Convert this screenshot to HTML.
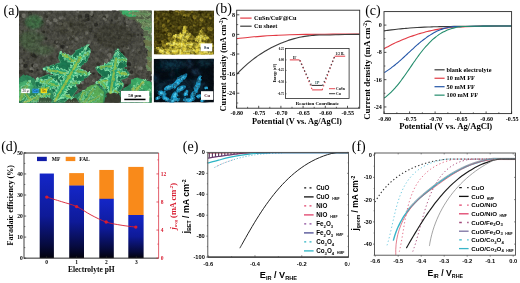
<!DOCTYPE html>
<html><head><meta charset="utf-8"><title>figure</title>
<style>
html,body{margin:0;padding:0;background:#fff;overflow:hidden;}
svg{display:block;filter:blur(0.45px);}
.se{font-family:"Liberation Serif",serif;font-weight:bold;}
.sen{font-family:"Liberation Serif",serif;font-weight:normal;}
.sa{font-family:"Liberation Sans",sans-serif;font-weight:bold;}
.san{font-family:"Liberation Sans",sans-serif;font-weight:normal;}
</style></head><body>
<svg width="520" height="283" viewBox="0 0 520 283">
<defs>
<filter id="nz" x="0" y="0" width="100%" height="100%">
<feTurbulence type="fractalNoise" baseFrequency="0.3" numOctaves="3" seed="3" result="t"/>
<feColorMatrix in="t" type="matrix" values="0 0 0 0 0  0 0 0 0 0  0 0 0 0 0  2.2 0 0 0 -0.8" result="a"/>
<feComposite in="SourceGraphic" in2="a" operator="in"/>
</filter>
<filter id="nz2" x="0" y="0" width="100%" height="100%">
<feTurbulence type="fractalNoise" baseFrequency="0.5" numOctaves="2" seed="11" result="t"/>
<feColorMatrix in="t" type="matrix" values="0 0 0 0 0  0 0 0 0 0  0 0 0 0 0  0 2.2 0 0 -0.8" result="a"/>
<feComposite in="SourceGraphic" in2="a" operator="in"/>
</filter>
<filter id="rg" x="-5%" y="-5%" width="110%" height="110%">
<feTurbulence type="fractalNoise" baseFrequency="0.22" numOctaves="2" seed="5" result="t"/>
<feDisplacementMap in="SourceGraphic" in2="t" scale="2.5" xChannelSelector="R" yChannelSelector="G" result="d"/>
<feGaussianBlur in="d" stdDeviation="0.45"/>
</filter>
<filter id="rg2" x="-5%" y="-5%" width="110%" height="110%">
<feTurbulence type="fractalNoise" baseFrequency="0.3" numOctaves="2" seed="9" result="t"/>
<feDisplacementMap in="SourceGraphic" in2="t" scale="3" xChannelSelector="R" yChannelSelector="G" result="d"/>
<feGaussianBlur in="d" stdDeviation="0.4"/>
</filter>
<filter id="b05"><feGaussianBlur stdDeviation="0.45"/></filter>
<filter id="b1"><feGaussianBlur stdDeviation="0.7"/></filter>
<filter id="b2"><feGaussianBlur stdDeviation="1.6"/></filter>
<linearGradient id="gG" x1="0" y1="0" x2="1" y2="1">
<stop offset="0" stop-color="#7fcf68"/><stop offset="0.45" stop-color="#3db874"/><stop offset="1" stop-color="#1f9a70"/>
</linearGradient>
<linearGradient id="gBar" x1="0" y1="0" x2="0" y2="1">
<stop offset="0" stop-color="#1426c8"/><stop offset="0.5" stop-color="#0e1a98"/><stop offset="0.85" stop-color="#060a3c"/><stop offset="1" stop-color="#02020c"/>
</linearGradient>
<clipPath id="cA"><rect x="19" y="10.4" width="132.7" height="92.35"/></clipPath>
<clipPath id="cS"><rect x="153.8" y="10.4" width="60.3" height="44"/></clipPath>
<clipPath id="cC"><rect x="153.7" y="58.75" width="60.2" height="43.75"/></clipPath>
<clipPath id="cB"><rect x="236.7" y="10.2" width="123" height="98"/></clipPath>
<clipPath id="cCc"><rect x="384" y="11.6" width="127.6" height="102"/></clipPath>
<clipPath id="cE"><rect x="207.8" y="152.4" width="140.7" height="104.7"/></clipPath>
<clipPath id="cF"><rect x="374.5" y="153" width="141" height="102.2"/></clipPath>
<clipPath id="cE0"><rect x="180" y="250" width="170" height="33"/></clipPath>
</defs>
<rect width="520" height="283" fill="#fff"/>

<text class="sen" x="3.6" y="15.2" font-size="14">(a)</text>
<text class="sen" x="215.6" y="12.8" font-size="14">(b)</text>
<text class="sen" x="365.2" y="15.4" font-size="14">(c)</text>
<text class="sen" x="1.2" y="151.4" font-size="14">(d)</text>
<text class="sen" x="182.8" y="151.2" font-size="14">(e)</text>
<g clip-path="url(#cA)">
<rect x="19.00" y="10.40" width="132.70" height="92.35" fill="#4c4c45"/>
<g filter="url(#b1)">
<circle cx="62.1" cy="24.0" r="1.9" fill="#34342e"/>
<circle cx="128.2" cy="18.8" r="1.8" fill="#2c2c26"/>
<circle cx="24.0" cy="50.3" r="1.1" fill="#34342e"/>
<circle cx="92.3" cy="15.5" r="1.8" fill="#2c2c26"/>
<circle cx="102.9" cy="64.2" r="1.1" fill="#58584f"/>
<circle cx="25.6" cy="30.6" r="1.8" fill="#5c5c54"/>
<circle cx="57.5" cy="23.4" r="1.2" fill="#707068"/>
<circle cx="93.5" cy="73.4" r="1.1" fill="#2c2c26"/>
<circle cx="68.5" cy="60.9" r="1.1" fill="#66665e"/>
<circle cx="101.3" cy="56.2" r="1.7" fill="#42423b"/>
<circle cx="80.9" cy="95.9" r="1.5" fill="#2c2c26"/>
<circle cx="124.7" cy="75.0" r="1.3" fill="#707068"/>
<circle cx="88.9" cy="91.4" r="2.0" fill="#707068"/>
<circle cx="100.0" cy="16.8" r="1.7" fill="#5c5c54"/>
<circle cx="119.7" cy="24.1" r="1.7" fill="#66665e"/>
<circle cx="146.9" cy="17.2" r="1.8" fill="#42423b"/>
<circle cx="64.2" cy="42.6" r="1.7" fill="#3a3a33"/>
<circle cx="28.1" cy="18.7" r="1.4" fill="#34342e"/>
<circle cx="27.1" cy="75.2" r="1.9" fill="#3a3a33"/>
<circle cx="56.9" cy="45.9" r="1.9" fill="#66665e"/>
<circle cx="144.1" cy="43.1" r="1.9" fill="#3a3a33"/>
<circle cx="26.8" cy="81.4" r="1.2" fill="#2c2c26"/>
<circle cx="71.9" cy="95.3" r="1.7" fill="#5c5c54"/>
<circle cx="78.7" cy="61.1" r="2.2" fill="#58584f"/>
<circle cx="133.9" cy="35.9" r="1.6" fill="#42423b"/>
<circle cx="109.8" cy="45.4" r="1.3" fill="#34342e"/>
<circle cx="42.4" cy="31.6" r="1.3" fill="#3a3a33"/>
<circle cx="129.5" cy="27.0" r="1.4" fill="#5c5c54"/>
<circle cx="74.7" cy="44.3" r="1.8" fill="#5c5c54"/>
<circle cx="110.8" cy="57.9" r="1.9" fill="#66665e"/>
<circle cx="79.7" cy="91.0" r="2.3" fill="#58584f"/>
<circle cx="71.9" cy="46.7" r="1.7" fill="#58584f"/>
<circle cx="27.3" cy="16.3" r="1.3" fill="#5c5c54"/>
<circle cx="33.6" cy="65.9" r="1.1" fill="#5c5c54"/>
<circle cx="90.4" cy="98.3" r="1.9" fill="#34342e"/>
<circle cx="135.3" cy="67.1" r="1.2" fill="#707068"/>
<circle cx="146.1" cy="66.0" r="1.7" fill="#34342e"/>
<circle cx="131.9" cy="102.4" r="1.7" fill="#3a3a33"/>
<circle cx="60.5" cy="23.4" r="2.0" fill="#707068"/>
<circle cx="82.7" cy="74.4" r="1.7" fill="#2c2c26"/>
<circle cx="145.5" cy="59.1" r="1.2" fill="#66665e"/>
<circle cx="119.8" cy="37.7" r="1.9" fill="#34342e"/>
<circle cx="111.6" cy="34.3" r="1.5" fill="#5c5c54"/>
<circle cx="66.3" cy="30.7" r="1.8" fill="#42423b"/>
<circle cx="103.6" cy="67.0" r="2.1" fill="#2c2c26"/>
<circle cx="126.2" cy="86.1" r="2.0" fill="#2c2c26"/>
<circle cx="45.6" cy="55.8" r="2.0" fill="#66665e"/>
<circle cx="124.1" cy="53.9" r="1.3" fill="#42423b"/>
<circle cx="78.5" cy="97.1" r="2.4" fill="#42423b"/>
<circle cx="29.7" cy="19.5" r="1.7" fill="#42423b"/>
<circle cx="46.2" cy="68.0" r="2.3" fill="#66665e"/>
<circle cx="82.8" cy="70.7" r="2.1" fill="#34342e"/>
<circle cx="130.0" cy="21.2" r="1.5" fill="#2c2c26"/>
<circle cx="82.6" cy="26.6" r="2.1" fill="#42423b"/>
<circle cx="30.5" cy="98.0" r="2.0" fill="#3a3a33"/>
<circle cx="72.4" cy="98.1" r="2.0" fill="#5c5c54"/>
<circle cx="151.1" cy="12.6" r="1.8" fill="#3a3a33"/>
<circle cx="126.3" cy="23.6" r="2.2" fill="#3a3a33"/>
<circle cx="106.4" cy="42.6" r="1.8" fill="#5c5c54"/>
<circle cx="21.8" cy="84.3" r="2.0" fill="#34342e"/>
<circle cx="89.0" cy="96.8" r="1.6" fill="#2c2c26"/>
<circle cx="128.9" cy="29.6" r="1.4" fill="#707068"/>
<circle cx="85.7" cy="81.0" r="1.5" fill="#58584f"/>
<circle cx="129.9" cy="15.7" r="2.0" fill="#3a3a33"/>
<circle cx="107.1" cy="85.8" r="1.7" fill="#5c5c54"/>
<circle cx="89.7" cy="58.7" r="1.0" fill="#3a3a33"/>
<circle cx="122.3" cy="66.6" r="2.1" fill="#5c5c54"/>
<circle cx="41.9" cy="54.0" r="2.0" fill="#66665e"/>
<circle cx="62.4" cy="58.2" r="1.8" fill="#34342e"/>
<circle cx="136.5" cy="15.3" r="1.3" fill="#66665e"/>
<circle cx="121.7" cy="57.2" r="1.8" fill="#34342e"/>
<circle cx="78.0" cy="67.0" r="1.7" fill="#2c2c26"/>
<circle cx="111.1" cy="52.1" r="1.7" fill="#3a3a33"/>
<circle cx="86.5" cy="33.0" r="1.7" fill="#707068"/>
<circle cx="141.7" cy="93.0" r="1.3" fill="#3a3a33"/>
<circle cx="37.2" cy="21.3" r="1.6" fill="#34342e"/>
<circle cx="108.3" cy="49.8" r="1.3" fill="#707068"/>
<circle cx="123.3" cy="93.4" r="1.2" fill="#42423b"/>
<circle cx="38.0" cy="92.1" r="2.4" fill="#2c2c26"/>
<circle cx="118.3" cy="18.8" r="2.2" fill="#5c5c54"/>
<circle cx="150.7" cy="87.4" r="1.2" fill="#58584f"/>
<circle cx="151.2" cy="47.6" r="1.6" fill="#42423b"/>
<circle cx="61.4" cy="77.2" r="1.0" fill="#3a3a33"/>
<circle cx="77.6" cy="11.7" r="1.5" fill="#707068"/>
<circle cx="87.1" cy="16.0" r="2.4" fill="#2c2c26"/>
<circle cx="148.2" cy="19.7" r="1.4" fill="#66665e"/>
<circle cx="139.5" cy="26.9" r="2.1" fill="#58584f"/>
<circle cx="132.0" cy="72.9" r="2.3" fill="#58584f"/>
<circle cx="38.9" cy="95.5" r="1.8" fill="#42423b"/>
<circle cx="30.9" cy="15.3" r="2.0" fill="#58584f"/>
<circle cx="138.1" cy="35.0" r="1.0" fill="#34342e"/>
<circle cx="125.6" cy="17.8" r="2.2" fill="#34342e"/>
<circle cx="54.2" cy="21.3" r="1.0" fill="#58584f"/>
<circle cx="142.2" cy="34.9" r="1.2" fill="#2c2c26"/>
<circle cx="143.8" cy="100.1" r="1.4" fill="#5c5c54"/>
<circle cx="45.8" cy="39.0" r="1.4" fill="#2c2c26"/>
<circle cx="57.6" cy="56.5" r="1.2" fill="#42423b"/>
<circle cx="125.9" cy="102.5" r="1.1" fill="#66665e"/>
<circle cx="116.5" cy="61.2" r="1.3" fill="#3a3a33"/>
<circle cx="51.7" cy="51.6" r="1.9" fill="#58584f"/>
<circle cx="106.3" cy="60.8" r="2.2" fill="#707068"/>
<circle cx="110.5" cy="101.4" r="1.5" fill="#5c5c54"/>
<circle cx="72.8" cy="42.3" r="1.1" fill="#5c5c54"/>
<circle cx="20.9" cy="68.2" r="2.2" fill="#58584f"/>
<circle cx="40.7" cy="17.9" r="2.2" fill="#707068"/>
<circle cx="98.6" cy="74.4" r="1.1" fill="#5c5c54"/>
<circle cx="40.0" cy="51.5" r="1.4" fill="#42423b"/>
<circle cx="148.4" cy="60.9" r="1.3" fill="#707068"/>
<circle cx="48.0" cy="27.0" r="1.5" fill="#34342e"/>
<circle cx="82.1" cy="56.8" r="1.3" fill="#66665e"/>
<circle cx="31.1" cy="86.0" r="1.2" fill="#66665e"/>
<circle cx="71.4" cy="37.9" r="1.9" fill="#34342e"/>
<circle cx="96.9" cy="59.2" r="2.1" fill="#58584f"/>
<circle cx="120.7" cy="77.0" r="1.7" fill="#707068"/>
<circle cx="115.3" cy="69.8" r="1.1" fill="#58584f"/>
<circle cx="116.6" cy="85.5" r="1.2" fill="#66665e"/>
<circle cx="128.9" cy="64.3" r="2.2" fill="#2c2c26"/>
<circle cx="30.3" cy="13.9" r="1.9" fill="#34342e"/>
<circle cx="69.1" cy="52.0" r="1.1" fill="#66665e"/>
<circle cx="102.3" cy="73.3" r="1.7" fill="#66665e"/>
<circle cx="79.8" cy="16.5" r="2.3" fill="#34342e"/>
<circle cx="106.7" cy="16.1" r="2.0" fill="#707068"/>
<circle cx="126.6" cy="88.7" r="1.3" fill="#2c2c26"/>
<circle cx="49.7" cy="70.4" r="1.6" fill="#58584f"/>
<circle cx="29.2" cy="94.7" r="1.4" fill="#66665e"/>
<circle cx="101.1" cy="69.8" r="1.1" fill="#5c5c54"/>
<circle cx="63.1" cy="70.6" r="2.0" fill="#5c5c54"/>
<circle cx="20.7" cy="15.6" r="1.4" fill="#34342e"/>
<circle cx="111.1" cy="72.8" r="1.4" fill="#707068"/>
<circle cx="80.8" cy="53.4" r="1.2" fill="#2c2c26"/>
<circle cx="60.5" cy="18.0" r="1.7" fill="#707068"/>
<circle cx="80.0" cy="86.3" r="2.4" fill="#3a3a33"/>
<circle cx="151.2" cy="46.0" r="2.3" fill="#2c2c26"/>
<circle cx="28.9" cy="18.4" r="2.0" fill="#707068"/>
<circle cx="145.7" cy="22.3" r="2.1" fill="#707068"/>
<circle cx="137.0" cy="75.4" r="1.3" fill="#3a3a33"/>
<circle cx="71.4" cy="24.8" r="2.3" fill="#3a3a33"/>
<circle cx="72.9" cy="77.6" r="1.6" fill="#58584f"/>
<circle cx="61.0" cy="88.1" r="1.0" fill="#42423b"/>
<circle cx="130.6" cy="21.2" r="2.3" fill="#66665e"/>
<circle cx="138.9" cy="37.0" r="1.5" fill="#58584f"/>
<circle cx="70.9" cy="90.9" r="1.1" fill="#58584f"/>
<circle cx="119.5" cy="89.4" r="1.4" fill="#66665e"/>
<circle cx="130.0" cy="36.6" r="2.3" fill="#2c2c26"/>
<circle cx="148.1" cy="50.6" r="1.4" fill="#42423b"/>
<circle cx="123.4" cy="49.8" r="1.0" fill="#58584f"/>
<circle cx="140.5" cy="97.5" r="1.8" fill="#34342e"/>
<circle cx="25.6" cy="78.1" r="1.6" fill="#5c5c54"/>
<circle cx="104.7" cy="36.6" r="1.1" fill="#5c5c54"/>
<circle cx="41.7" cy="48.6" r="1.4" fill="#707068"/>
<circle cx="117.3" cy="100.8" r="1.4" fill="#2c2c26"/>
<circle cx="59.0" cy="61.8" r="1.6" fill="#5c5c54"/>
<circle cx="104.5" cy="17.0" r="1.7" fill="#3a3a33"/>
<circle cx="92.2" cy="52.1" r="1.5" fill="#3a3a33"/>
<circle cx="75.8" cy="60.9" r="1.3" fill="#5c5c54"/>
<circle cx="64.5" cy="18.5" r="1.3" fill="#707068"/>
<circle cx="126.6" cy="28.8" r="1.0" fill="#58584f"/>
<circle cx="69.9" cy="79.4" r="1.3" fill="#707068"/>
<circle cx="64.0" cy="15.8" r="1.4" fill="#42423b"/>
<circle cx="35.7" cy="56.8" r="1.9" fill="#2c2c26"/>
<circle cx="31.3" cy="93.4" r="1.5" fill="#3a3a33"/>
<circle cx="76.4" cy="39.0" r="2.1" fill="#66665e"/>
<circle cx="35.9" cy="49.5" r="2.1" fill="#3a3a33"/>
<circle cx="147.8" cy="55.6" r="1.1" fill="#3a3a33"/>
<circle cx="148.3" cy="33.1" r="1.2" fill="#5c5c54"/>
<circle cx="39.2" cy="100.4" r="1.2" fill="#3a3a33"/>
<circle cx="30.3" cy="82.2" r="1.0" fill="#5c5c54"/>
<circle cx="49.9" cy="95.6" r="1.9" fill="#707068"/>
<circle cx="147.0" cy="68.3" r="1.7" fill="#58584f"/>
<circle cx="111.9" cy="20.4" r="1.1" fill="#2c2c26"/>
<circle cx="70.6" cy="30.8" r="1.8" fill="#66665e"/>
<circle cx="90.5" cy="102.7" r="1.4" fill="#42423b"/>
<circle cx="104.7" cy="92.2" r="1.7" fill="#2c2c26"/>
<circle cx="91.8" cy="12.7" r="1.6" fill="#707068"/>
<circle cx="26.4" cy="28.1" r="2.2" fill="#58584f"/>
<circle cx="29.8" cy="31.2" r="1.6" fill="#42423b"/>
<circle cx="49.2" cy="13.2" r="1.5" fill="#58584f"/>
<circle cx="67.2" cy="46.9" r="1.0" fill="#707068"/>
<circle cx="117.3" cy="57.0" r="1.3" fill="#2c2c26"/>
<circle cx="60.5" cy="86.3" r="1.3" fill="#2c2c26"/>
<circle cx="54.2" cy="92.7" r="1.2" fill="#3a3a33"/>
<circle cx="100.1" cy="93.4" r="1.7" fill="#66665e"/>
<circle cx="145.2" cy="23.6" r="1.6" fill="#2c2c26"/>
<circle cx="22.1" cy="65.4" r="1.6" fill="#66665e"/>
<circle cx="43.5" cy="51.8" r="2.0" fill="#42423b"/>
<circle cx="116.5" cy="102.8" r="2.3" fill="#42423b"/>
<circle cx="44.4" cy="70.7" r="1.7" fill="#3a3a33"/>
<circle cx="23.2" cy="71.8" r="1.5" fill="#42423b"/>
<circle cx="150.0" cy="51.1" r="1.2" fill="#34342e"/>
<circle cx="56.2" cy="42.7" r="2.3" fill="#34342e"/>
<circle cx="93.6" cy="80.6" r="1.5" fill="#707068"/>
<circle cx="128.3" cy="50.2" r="1.1" fill="#3a3a33"/>
<circle cx="45.0" cy="60.4" r="1.6" fill="#42423b"/>
<circle cx="67.4" cy="93.4" r="1.0" fill="#58584f"/>
<circle cx="52.0" cy="68.2" r="1.6" fill="#58584f"/>
<circle cx="23.6" cy="15.8" r="2.3" fill="#707068"/>
<circle cx="44.9" cy="15.8" r="1.8" fill="#42423b"/>
<circle cx="55.2" cy="99.1" r="1.9" fill="#707068"/>
<circle cx="118.3" cy="74.1" r="2.3" fill="#707068"/>
<circle cx="19.5" cy="80.3" r="2.3" fill="#34342e"/>
<circle cx="22.2" cy="31.7" r="1.7" fill="#3a3a33"/>
<circle cx="145.9" cy="45.9" r="1.4" fill="#58584f"/>
<circle cx="127.4" cy="22.3" r="1.7" fill="#66665e"/>
<circle cx="125.7" cy="78.7" r="2.2" fill="#5c5c54"/>
<circle cx="99.8" cy="40.5" r="1.4" fill="#42423b"/>
<circle cx="123.2" cy="65.4" r="1.7" fill="#58584f"/>
<circle cx="119.1" cy="33.0" r="1.1" fill="#66665e"/>
<circle cx="83.1" cy="60.6" r="1.2" fill="#58584f"/>
<circle cx="136.5" cy="101.9" r="1.4" fill="#34342e"/>
<circle cx="46.7" cy="49.2" r="2.4" fill="#3a3a33"/>
<circle cx="42.0" cy="22.4" r="1.6" fill="#2c2c26"/>
<circle cx="118.5" cy="88.8" r="1.9" fill="#34342e"/>
<circle cx="122.7" cy="37.3" r="1.4" fill="#707068"/>
<circle cx="68.6" cy="78.6" r="1.3" fill="#2c2c26"/>
<circle cx="43.7" cy="31.9" r="1.4" fill="#2c2c26"/>
<circle cx="62.4" cy="46.8" r="2.4" fill="#2c2c26"/>
<circle cx="105.4" cy="19.4" r="1.6" fill="#66665e"/>
<circle cx="32.6" cy="54.2" r="2.1" fill="#3a3a33"/>
<circle cx="140.6" cy="13.8" r="1.4" fill="#34342e"/>
<circle cx="25.7" cy="65.8" r="2.2" fill="#2c2c26"/>
<circle cx="142.7" cy="44.6" r="2.2" fill="#3a3a33"/>
<circle cx="99.2" cy="82.1" r="1.9" fill="#66665e"/>
<circle cx="33.1" cy="65.4" r="1.9" fill="#2c2c26"/>
<circle cx="24.0" cy="41.6" r="1.1" fill="#707068"/>
<circle cx="24.1" cy="78.1" r="2.3" fill="#66665e"/>
<circle cx="127.9" cy="48.0" r="1.5" fill="#707068"/>
<circle cx="29.4" cy="12.9" r="1.7" fill="#3a3a33"/>
<circle cx="27.4" cy="19.4" r="1.6" fill="#5c5c54"/>
<circle cx="104.0" cy="18.5" r="1.2" fill="#707068"/>
<circle cx="73.5" cy="36.3" r="1.4" fill="#66665e"/>
<circle cx="60.5" cy="62.7" r="1.5" fill="#58584f"/>
<circle cx="21.4" cy="81.3" r="2.1" fill="#2c2c26"/>
<circle cx="71.0" cy="47.7" r="2.3" fill="#58584f"/>
<circle cx="138.9" cy="49.4" r="2.1" fill="#58584f"/>
<circle cx="95.8" cy="43.9" r="2.1" fill="#5c5c54"/>
<circle cx="21.0" cy="61.3" r="1.9" fill="#58584f"/>
<circle cx="30.8" cy="67.9" r="1.5" fill="#5c5c54"/>
<circle cx="38.4" cy="36.3" r="1.7" fill="#34342e"/>
<circle cx="33.5" cy="55.6" r="2.1" fill="#2c2c26"/>
<circle cx="59.1" cy="87.9" r="1.1" fill="#3a3a33"/>
<circle cx="60.8" cy="66.5" r="1.9" fill="#34342e"/>
<circle cx="139.3" cy="67.7" r="2.2" fill="#5c5c54"/>
<circle cx="104.2" cy="89.7" r="1.9" fill="#2c2c26"/>
<circle cx="129.3" cy="27.0" r="1.3" fill="#58584f"/>
<circle cx="143.8" cy="24.6" r="1.5" fill="#5c5c54"/>
<circle cx="51.9" cy="77.4" r="2.3" fill="#66665e"/>
<circle cx="136.6" cy="88.4" r="1.9" fill="#42423b"/>
<circle cx="34.7" cy="65.8" r="1.8" fill="#707068"/>
<circle cx="105.3" cy="38.7" r="1.3" fill="#58584f"/>
<circle cx="106.6" cy="51.6" r="1.6" fill="#66665e"/>
<circle cx="19.5" cy="101.7" r="1.7" fill="#3a3a33"/>
<circle cx="120.6" cy="82.5" r="1.6" fill="#5c5c54"/>
<circle cx="126.8" cy="47.2" r="1.1" fill="#42423b"/>
<circle cx="76.3" cy="18.5" r="1.6" fill="#66665e"/>
<circle cx="24.4" cy="22.1" r="2.3" fill="#42423b"/>
<circle cx="122.4" cy="57.6" r="1.1" fill="#58584f"/>
<circle cx="105.8" cy="82.9" r="1.0" fill="#34342e"/>
<circle cx="151.5" cy="78.1" r="2.1" fill="#2c2c26"/>
<circle cx="36.5" cy="92.4" r="1.4" fill="#5c5c54"/>
<circle cx="110.3" cy="77.1" r="1.3" fill="#42423b"/>
<circle cx="100.2" cy="33.5" r="1.5" fill="#707068"/>
<circle cx="139.4" cy="52.4" r="1.4" fill="#3a3a33"/>
<circle cx="46.7" cy="34.4" r="1.7" fill="#42423b"/>
<circle cx="68.5" cy="28.5" r="1.6" fill="#707068"/>
<circle cx="109.4" cy="93.3" r="1.2" fill="#707068"/>
<circle cx="34.3" cy="59.4" r="1.9" fill="#42423b"/>
<circle cx="147.5" cy="52.1" r="1.7" fill="#34342e"/>
<circle cx="52.5" cy="59.8" r="2.2" fill="#42423b"/>
<circle cx="54.2" cy="102.1" r="1.8" fill="#42423b"/>
<circle cx="63.0" cy="17.6" r="1.3" fill="#66665e"/>
<circle cx="58.4" cy="58.0" r="1.4" fill="#42423b"/>
<circle cx="116.5" cy="79.5" r="1.3" fill="#707068"/>
<circle cx="100.9" cy="50.2" r="1.7" fill="#66665e"/>
<circle cx="36.6" cy="31.1" r="1.9" fill="#66665e"/>
<circle cx="26.2" cy="62.7" r="1.4" fill="#42423b"/>
<circle cx="90.0" cy="48.4" r="1.4" fill="#5c5c54"/>
<circle cx="46.2" cy="68.0" r="1.7" fill="#5c5c54"/>
<circle cx="20.9" cy="84.5" r="2.0" fill="#3a3a33"/>
<circle cx="31.7" cy="69.4" r="2.2" fill="#707068"/>
<circle cx="72.5" cy="34.6" r="1.0" fill="#42423b"/>
<circle cx="98.1" cy="63.8" r="1.8" fill="#3a3a33"/>
<circle cx="52.1" cy="94.0" r="1.1" fill="#66665e"/>
<circle cx="73.0" cy="32.1" r="1.1" fill="#34342e"/>
<circle cx="20.6" cy="61.2" r="2.3" fill="#5c5c54"/>
<circle cx="74.0" cy="58.2" r="1.9" fill="#58584f"/>
<circle cx="127.2" cy="26.2" r="1.4" fill="#707068"/>
<circle cx="102.3" cy="102.4" r="2.0" fill="#3a3a33"/>
<circle cx="114.1" cy="10.6" r="2.2" fill="#3a3a33"/>
<circle cx="29.7" cy="71.0" r="1.2" fill="#34342e"/>
<circle cx="53.8" cy="69.9" r="1.2" fill="#707068"/>
<circle cx="113.7" cy="34.7" r="1.8" fill="#58584f"/>
<circle cx="110.2" cy="95.3" r="2.4" fill="#707068"/>
<circle cx="104.4" cy="99.8" r="1.3" fill="#66665e"/>
<circle cx="41.6" cy="94.1" r="2.2" fill="#2c2c26"/>
<circle cx="144.6" cy="79.4" r="1.5" fill="#58584f"/>
<circle cx="62.7" cy="32.2" r="2.3" fill="#3a3a33"/>
<circle cx="81.8" cy="59.3" r="1.0" fill="#66665e"/>
<circle cx="77.1" cy="77.4" r="1.8" fill="#707068"/>
<circle cx="124.0" cy="46.4" r="1.8" fill="#5c5c54"/>
<circle cx="38.2" cy="12.5" r="1.1" fill="#5c5c54"/>
<circle cx="64.9" cy="23.2" r="1.0" fill="#66665e"/>
<circle cx="37.4" cy="69.8" r="1.1" fill="#34342e"/>
<circle cx="117.0" cy="16.1" r="1.8" fill="#42423b"/>
<circle cx="45.5" cy="98.8" r="1.7" fill="#34342e"/>
<circle cx="136.0" cy="80.3" r="2.0" fill="#58584f"/>
<circle cx="33.2" cy="29.1" r="1.2" fill="#66665e"/>
<circle cx="145.3" cy="94.7" r="2.1" fill="#34342e"/>
<circle cx="128.7" cy="68.7" r="1.4" fill="#34342e"/>
<circle cx="36.6" cy="83.7" r="1.9" fill="#707068"/>
<circle cx="61.4" cy="49.4" r="1.0" fill="#707068"/>
<circle cx="142.7" cy="14.5" r="2.1" fill="#42423b"/>
<circle cx="121.3" cy="66.0" r="1.7" fill="#707068"/>
<circle cx="101.2" cy="12.9" r="1.6" fill="#58584f"/>
<circle cx="88.0" cy="19.1" r="1.7" fill="#66665e"/>
<circle cx="90.5" cy="30.1" r="2.2" fill="#34342e"/>
<circle cx="95.4" cy="36.7" r="1.6" fill="#2c2c26"/>
<circle cx="57.3" cy="79.8" r="1.1" fill="#42423b"/>
<circle cx="84.3" cy="55.7" r="2.1" fill="#5c5c54"/>
<circle cx="147.6" cy="65.1" r="2.3" fill="#707068"/>
<circle cx="95.9" cy="24.8" r="2.1" fill="#2c2c26"/>
<circle cx="85.3" cy="20.2" r="1.9" fill="#34342e"/>
<circle cx="84.2" cy="102.2" r="1.8" fill="#34342e"/>
<circle cx="102.5" cy="43.1" r="1.6" fill="#58584f"/>
<circle cx="137.6" cy="79.3" r="1.6" fill="#66665e"/>
<circle cx="68.5" cy="38.2" r="1.6" fill="#5c5c54"/>
<circle cx="69.4" cy="92.2" r="1.3" fill="#3a3a33"/>
<circle cx="35.9" cy="65.3" r="2.0" fill="#66665e"/>
<circle cx="65.3" cy="40.4" r="1.2" fill="#3a3a33"/>
<circle cx="107.1" cy="79.0" r="1.2" fill="#3a3a33"/>
<circle cx="110.6" cy="33.9" r="1.3" fill="#42423b"/>
<circle cx="80.4" cy="92.3" r="1.3" fill="#2c2c26"/>
<circle cx="54.6" cy="80.2" r="2.2" fill="#5c5c54"/>
<circle cx="115.2" cy="100.7" r="2.0" fill="#42423b"/>
<circle cx="40.4" cy="40.5" r="1.3" fill="#34342e"/>
<circle cx="40.9" cy="71.2" r="1.3" fill="#5c5c54"/>
<circle cx="149.8" cy="83.9" r="2.0" fill="#58584f"/>
<circle cx="55.4" cy="20.2" r="2.3" fill="#707068"/>
<circle cx="46.5" cy="46.1" r="1.0" fill="#58584f"/>
<circle cx="132.6" cy="50.6" r="1.3" fill="#707068"/>
<circle cx="80.6" cy="23.2" r="1.8" fill="#58584f"/>
<circle cx="19.7" cy="32.5" r="2.2" fill="#58584f"/>
<circle cx="131.5" cy="72.1" r="1.9" fill="#2c2c26"/>
<circle cx="109.4" cy="69.7" r="1.6" fill="#42423b"/>
<circle cx="53.6" cy="75.2" r="2.3" fill="#2c2c26"/>
<circle cx="123.1" cy="76.3" r="1.9" fill="#707068"/>
<circle cx="132.0" cy="54.9" r="1.0" fill="#58584f"/>
<circle cx="87.9" cy="71.5" r="2.2" fill="#42423b"/>
<circle cx="122.5" cy="46.1" r="1.7" fill="#34342e"/>
<circle cx="24.1" cy="60.5" r="1.2" fill="#2c2c26"/>
<circle cx="88.1" cy="19.4" r="1.8" fill="#2c2c26"/>
<circle cx="114.4" cy="57.6" r="1.9" fill="#42423b"/>
<circle cx="88.4" cy="48.2" r="2.3" fill="#2c2c26"/>
<circle cx="150.7" cy="27.1" r="1.7" fill="#34342e"/>
<circle cx="116.0" cy="67.1" r="1.9" fill="#707068"/>
<circle cx="55.5" cy="47.2" r="1.0" fill="#58584f"/>
<circle cx="140.8" cy="68.5" r="1.9" fill="#707068"/>
<circle cx="33.5" cy="38.2" r="1.6" fill="#2c2c26"/>
<circle cx="151.2" cy="99.4" r="1.6" fill="#5c5c54"/>
<circle cx="36.2" cy="82.2" r="2.1" fill="#2c2c26"/>
<circle cx="81.4" cy="62.3" r="1.3" fill="#5c5c54"/>
<circle cx="66.0" cy="69.4" r="2.1" fill="#58584f"/>
<circle cx="81.3" cy="37.4" r="1.8" fill="#5c5c54"/>
<circle cx="122.7" cy="53.7" r="2.1" fill="#2c2c26"/>
<circle cx="54.6" cy="45.0" r="1.4" fill="#58584f"/>
<circle cx="109.3" cy="54.8" r="2.1" fill="#707068"/>
<circle cx="66.6" cy="70.9" r="1.4" fill="#3a3a33"/>
<circle cx="76.0" cy="69.3" r="1.9" fill="#42423b"/>
<circle cx="39.3" cy="38.2" r="1.5" fill="#34342e"/>
<circle cx="129.1" cy="94.2" r="2.1" fill="#5c5c54"/>
<circle cx="89.6" cy="42.1" r="1.8" fill="#66665e"/>
<circle cx="46.9" cy="16.7" r="1.4" fill="#34342e"/>
<circle cx="95.9" cy="89.4" r="1.3" fill="#3a3a33"/>
<circle cx="65.1" cy="24.2" r="2.3" fill="#5c5c54"/>
<circle cx="100.1" cy="74.0" r="2.4" fill="#34342e"/>
<circle cx="107.9" cy="93.1" r="2.1" fill="#707068"/>
<circle cx="45.3" cy="74.4" r="1.7" fill="#3a3a33"/>
<circle cx="108.3" cy="20.9" r="1.2" fill="#58584f"/>
<circle cx="50.1" cy="23.0" r="1.7" fill="#66665e"/>
<circle cx="83.4" cy="94.2" r="2.0" fill="#2c2c26"/>
<circle cx="85.3" cy="60.2" r="2.2" fill="#66665e"/>
<circle cx="40.3" cy="39.8" r="2.0" fill="#3a3a33"/>
<circle cx="107.5" cy="88.2" r="1.5" fill="#58584f"/>
<circle cx="152.0" cy="72.9" r="1.3" fill="#42423b"/>
<circle cx="103.6" cy="12.7" r="1.9" fill="#42423b"/>
<circle cx="126.5" cy="18.7" r="1.7" fill="#5c5c54"/>
<circle cx="23.5" cy="76.8" r="1.9" fill="#42423b"/>
<circle cx="31.6" cy="71.3" r="1.5" fill="#2c2c26"/>
<circle cx="56.8" cy="41.8" r="1.4" fill="#66665e"/>
<circle cx="129.0" cy="37.2" r="2.2" fill="#58584f"/>
<circle cx="63.4" cy="101.5" r="2.2" fill="#42423b"/>
<circle cx="148.7" cy="70.9" r="2.1" fill="#42423b"/>
<circle cx="44.6" cy="76.3" r="1.2" fill="#34342e"/>
<circle cx="123.3" cy="13.7" r="2.0" fill="#58584f"/>
<circle cx="91.5" cy="14.6" r="1.4" fill="#66665e"/>
<circle cx="25.2" cy="86.4" r="1.7" fill="#66665e"/>
<circle cx="123.9" cy="94.6" r="1.9" fill="#5c5c54"/>
<circle cx="102.4" cy="74.8" r="1.8" fill="#34342e"/>
<circle cx="47.3" cy="72.0" r="1.6" fill="#5c5c54"/>
<circle cx="32.5" cy="26.9" r="1.1" fill="#34342e"/>
<circle cx="140.6" cy="71.0" r="1.5" fill="#5c5c54"/>
<circle cx="123.6" cy="62.3" r="1.4" fill="#707068"/>
<circle cx="43.6" cy="13.2" r="1.0" fill="#66665e"/>
<circle cx="85.2" cy="58.6" r="2.2" fill="#58584f"/>
<circle cx="95.5" cy="95.4" r="1.6" fill="#66665e"/>
<circle cx="109.4" cy="65.2" r="2.4" fill="#5c5c54"/>
<circle cx="82.2" cy="48.4" r="1.1" fill="#3a3a33"/>
<circle cx="47.2" cy="24.1" r="1.0" fill="#66665e"/>
<circle cx="20.2" cy="72.3" r="2.4" fill="#34342e"/>
<circle cx="48.0" cy="21.3" r="1.7" fill="#707068"/>
<circle cx="114.7" cy="32.5" r="2.0" fill="#5c5c54"/>
<circle cx="141.7" cy="44.0" r="2.0" fill="#5c5c54"/>
<circle cx="116.1" cy="17.8" r="1.9" fill="#3a3a33"/>
<circle cx="80.3" cy="96.7" r="1.4" fill="#66665e"/>
<circle cx="114.4" cy="11.1" r="1.0" fill="#34342e"/>
<circle cx="70.7" cy="39.1" r="1.8" fill="#3a3a33"/>
<circle cx="100.0" cy="39.4" r="2.3" fill="#3a3a33"/>
<circle cx="81.5" cy="25.5" r="2.4" fill="#34342e"/>
<circle cx="67.3" cy="70.0" r="1.9" fill="#58584f"/>
<circle cx="82.4" cy="82.4" r="1.6" fill="#707068"/>
<circle cx="123.4" cy="62.7" r="1.4" fill="#66665e"/>
</g>
<g filter="url(#b2)">
<ellipse cx="34" cy="22" rx="9" ry="7" fill="#3f7a48" opacity="0.75"/>
<path d="M22,34 L34,30 L46,36 L40,44 L52,50 L44,56 L30,52 L22,46 Z" fill="#4a6a48" opacity="0.55"/>
<ellipse cx="27" cy="40" rx="8" ry="9" fill="#46603f" opacity="0.55"/>
<ellipse cx="46" cy="50" rx="9" ry="5" fill="#50684a" opacity="0.5"/>
<ellipse cx="114" cy="36" rx="20" ry="13" fill="#35362d" opacity="0.6"/>
<ellipse cx="72" cy="27" rx="18" ry="9" fill="#3e3f36" opacity="0.45"/>
</g>
<rect x="19" y="10.4" width="132.7" height="92.35" fill="#15150f" filter="url(#nz)" opacity="0.22"/>
<rect x="19" y="10.4" width="132.7" height="92.35" fill="#d0d8c0" filter="url(#nz2)" opacity="0.08"/>
<g filter="url(#rg)">
<path d="M118,10 L124,17 L134,20 L141,26 L144.5,36 L146.5,48 L148,60 L152,64 L152,10 Z" fill="#5c6c50" opacity="0.85"/>
<path d="M140,22 L147,30 L152,38 L152,22 Z" fill="#6f8a5c"/>
<path d="M120,10 L122,14 L129,17 L136,16.5 L139,12 L138,10 Z" fill="#3fb46c"/>
<path d="M143,40 L148,52 L147,66 L152,74 L152,40 Z" fill="#707a4c" opacity="0.9"/>
</g>
<g filter="url(#rg2)">
<polygon points="150.0,12.9 147.2,10.6 146.4,11.7 143.6,9.3 142.8,11.8 139.9,9.6 139.1,12.0 136.2,11.4 135.4,12.2 132.5,11.0 131.7,12.4 128.8,11.8 128.0,13.0 128.7,13.9 131.6,13.9 132.3,15.2 135.3,14.5 136.0,15.5 138.9,15.0 139.6,17.2 142.6,15.5 143.2,17.7 146.2,16.0 146.9,17.2 150.0,15.1" fill="#86a474"/>
<polygon points="149.2,13.2 146.7,11.6 146.0,12.4 143.6,10.7 142.9,12.4 140.4,10.9 139.7,12.5 137.2,12.1 136.5,12.6 134.1,11.8 133.4,12.7 130.9,12.3 130.2,13.1 130.8,13.7 133.3,13.8 133.9,14.6 136.5,14.2 137.1,14.9 139.6,14.6 140.2,16.0 142.8,14.9 143.3,16.4 145.9,15.3 146.5,16.1 149.1,14.7" fill="#5f7852"/>
<line x1="150.0" y1="14.0" x2="132.8" y2="13.2" stroke="#6c9a62" stroke-width="2.0" stroke-linecap="round" opacity="0.75"/>
<polygon points="152.1,21.0 149.2,18.2 148.2,19.7 145.2,17.5 144.2,19.6 141.0,19.0 140.1,19.6 136.9,19.0 136.0,20.0 136.7,21.3 139.9,21.4 140.6,22.5 143.8,22.4 144.5,23.8 147.8,23.3 148.3,25.5 151.9,23.0" fill="#86a474"/>
<polygon points="151.4,21.3 148.9,19.3 148.1,20.3 145.5,18.7 144.6,20.1 141.9,19.6 141.1,20.0 138.4,19.5 137.6,20.2 138.2,21.1 141.0,21.2 141.6,22.0 144.4,22.0 144.9,23.0 147.8,22.7 148.3,24.2 151.3,22.6" fill="#566e4c"/>
<line x1="152.0" y1="22.0" x2="139.5" y2="20.4" stroke="#6c9a62" stroke-width="1.8" stroke-linecap="round" opacity="0.75"/>
<polygon points="152.2,29.1 150.1,25.3 148.7,27.5 146.2,25.3 144.9,27.0 142.0,26.1 141.0,27.0 141.3,28.7 144.4,29.0 144.7,30.7 147.9,30.5 148.0,33.0 151.8,30.9" fill="#86a474"/>
<polygon points="151.7,29.3 149.8,26.6 148.7,28.0 146.4,26.3 145.4,27.5 142.9,26.7 142.1,27.3 142.5,28.5 145.1,28.8 145.4,30.1 148.1,30.0 148.3,31.8 151.4,30.5" fill="#52865a"/>
<line x1="152.0" y1="30.0" x2="143.4" y2="27.7" stroke="#6c9a62" stroke-width="1.7" stroke-linecap="round" opacity="0.75"/>
<polygon points="152.4,39.2 151.0,36.2 149.8,37.3 147.9,35.4 146.7,36.5 144.5,35.3 143.5,36.0 143.5,37.5 145.9,38.2 145.7,40.1 148.5,40.0 148.7,41.2 151.6,40.8" fill="#86a474"/>
<polygon points="151.9,39.3 150.6,37.1 149.7,37.8 148.0,36.3 147.1,37.0 145.1,36.0 144.3,36.4 144.4,37.5 146.5,38.1 146.5,39.5 148.8,39.6 149.0,40.5 151.4,40.4" fill="#566e4c"/>
<line x1="152.0" y1="40.0" x2="145.4" y2="36.9" stroke="#6c9a62" stroke-width="1.6" stroke-linecap="round" opacity="0.75"/>
<polygon points="152.4,49.3 151.7,46.2 150.4,47.5 148.9,45.7 147.8,46.6 146.0,45.4 145.0,46.0 144.8,47.4 146.9,48.1 146.9,49.3 149.0,49.9 148.5,51.8 151.6,50.7" fill="#86a474"/>
<polygon points="152.0,49.4 151.2,47.0 150.2,47.9 148.9,46.5 148.0,47.0 146.4,46.0 145.7,46.4 145.7,47.4 147.4,48.1 147.5,48.9 149.2,49.5 149.0,50.9 151.4,50.3" fill="#5f7852"/>
<line x1="152.0" y1="50.0" x2="146.5" y2="46.9" stroke="#6c9a62" stroke-width="1.5" stroke-linecap="round" opacity="0.75"/>
<polygon points="152.4,59.3 151.8,56.4 150.6,57.8 149.3,56.3 148.4,57.2 146.9,56.2 146.0,57.0 145.9,58.2 147.6,58.8 147.6,59.8 149.4,60.2 149.0,62.0 151.6,60.7" fill="#86a474"/>
<polygon points="152.0,59.4 151.3,57.3 150.5,58.2 149.3,57.1 148.6,57.6 147.3,56.8 146.6,57.3 146.6,58.2 148.1,58.7 148.1,59.4 149.6,59.9 149.4,61.1 151.5,60.4" fill="#5f7852"/>
<line x1="152.0" y1="60.0" x2="147.3" y2="57.7" stroke="#6c9a62" stroke-width="1.5" stroke-linecap="round" opacity="0.75"/>
<polygon points="150.5,69.5 150.8,67.1 149.5,67.8 148.8,66.4 147.9,66.8 146.9,65.7 146.0,66.0 145.5,67.0 146.8,67.9 146.4,68.8 147.8,69.5 147.0,70.9 149.5,70.5" fill="#86a474"/>
<polygon points="150.2,69.5 150.2,67.7 149.3,68.1 148.6,67.0 147.9,67.2 147.0,66.2 146.4,66.4 146.1,67.2 147.2,67.9 147.0,68.6 148.1,69.3 147.6,70.2 149.5,70.2" fill="#5f7852"/>
<line x1="150.0" y1="70.0" x2="146.9" y2="66.9" stroke="#6c9a62" stroke-width="1.3" stroke-linecap="round" opacity="0.75"/>
</g>
<g filter="url(#rg)">
<path d="M19,78 L24,74 L30,76 L36,80 L44,84 L52,88 L60,96 L72,97 L80,92 L88,88 L96,84 L104,88 L112,96 L120,92 L130,84 L140,80 L152,82 L152,104 L19,104 Z" fill="#2f8a5c"/>
<path d="M19,84 L26,80 L34,86 L30,94 L22,98 L19,97 Z" fill="#46b070"/>
<path d="M131,80 L137,77.5 L143,79.5 L150,81.5 L152,85 L152,92 L144,90 L136,88.5 L131,86 Z" fill="#3cae68"/>
<path d="M80,104 L82,95 L86.3,88.6 L90.8,85.2 L96,84 L100,88 L104,92 L103,104 Z" fill="#5aae58"/>
<path d="M104,104 L106,94 L112,90 L118,92 L121,98 L120,104 Z" fill="#3a3c30"/>
<path d="M64,104 L68,99 L76,98 L80,104 Z" fill="#3a4432"/>
<path d="M36,104 L40,97 L48,95 L52,100 L50,104 Z" fill="#38583c"/>
<polygon points="88.0,44.5 82.3,47.9 76.7,50.2 73.3,54.7 67.6,57.0 63.1,53.6 59.7,52.4 58.6,58.1 60.9,62.6 53.0,64.9 46.1,67.1 42.8,68.3 48.4,71.7 53.0,73.9 56.0,76.0 47.0,75.0 41.6,77.3 36.0,79.6 34.8,85.2 38.2,88.6 43.9,88.6 48.4,86.4 50.7,88.6 53.0,93.2 56.3,98.8 64.2,101.1 72.2,96.6 77.8,88.6 74.4,84.1 80.1,81.9 86.9,77.3 90.3,74.0 84.6,71.7 77.8,70.5 81.2,66.0 86.9,61.5 89.1,55.8 90.3,50.2" fill="#1b7a52" stroke="#48b07a" stroke-width="0.8" stroke-linejoin="round"/>
<polygon points="118.0,48.6 120.2,51.3 123.6,55.8 127.0,59.2 125.9,64.9 123.6,68.3 128.2,71.7 129.3,74.0 129.3,76.2 124.8,78.5 120.2,79.6 123.6,84.1 121.0,90.0 116.0,93.0 112.0,90.0 106.0,92.0 103.0,86.0 98.0,84.0 95.4,83.0 99.9,79.6 103.3,76.2 98.8,72.8 95.8,68.3 97.6,67.1 104.4,68.3 110.1,67.1 108.9,62.6 112.3,59.2 114.6,53.6" fill="#1b7a52" stroke="#48b07a" stroke-width="0.8" stroke-linejoin="round"/>
</g>
<g filter="url(#rg2)">
<polygon points="21.2,100.6 24.6,99.0 24.1,97.9 26.5,95.8 25.4,94.4 29.3,93.0 26.7,90.9 28.7,88.5 28.0,87.3 30.5,85.2 29.2,83.8 30.8,81.2 30.0,80.0 28.7,80.2 27.5,82.9 26.2,83.1 25.4,86.0 23.2,85.8 23.3,89.1 21.3,89.0 21.3,92.3 19.7,92.4 19.3,95.5 17.8,95.6 18.8,99.4" fill="#7ed69a"/>
<polygon points="21.2,99.6 23.8,98.0 23.5,97.1 25.4,95.2 24.7,94.2 27.5,92.7 25.9,91.2 27.4,89.1 27.0,88.2 28.9,86.3 28.1,85.2 29.5,83.0 29.0,82.0 28.0,82.2 27.0,84.6 26.1,84.8 25.2,87.3 23.7,87.2 23.5,90.0 22.1,90.0 21.9,92.8 20.8,92.9 20.2,95.5 19.2,95.7 19.6,98.8" fill="#4aa856"/>
<line x1="20.0" y1="100.0" x2="27.8" y2="84.4" stroke="#90c058" stroke-width="2.4" stroke-linecap="round" opacity="0.75"/>
<polygon points="24.5,104.1 27.9,104.0 28.5,103.5 32.6,104.9 31.9,101.5 35.4,101.6 35.2,99.6 38.4,99.0 38.6,97.5 41.7,96.9 41.9,95.4 44.8,94.5 45.0,93.0 43.8,92.2 41.1,93.9 39.7,92.6 37.4,95.1 35.8,93.6 33.8,96.4 32.2,94.9 30.1,97.8 28.1,95.4 26.5,99.2 25.7,99.3 23.5,101.9" fill="#7ed69a"/>
<polygon points="25.2,103.3 28.0,103.1 28.6,102.6 31.8,103.4 31.5,101.0 34.3,100.8 34.4,99.4 37.0,98.7 37.3,97.7 39.9,97.0 40.1,96.0 42.7,95.1 42.9,94.0 41.9,93.5 39.6,94.9 38.5,94.1 36.5,96.1 35.3,95.1 33.4,97.2 32.2,96.2 30.3,98.5 28.8,96.9 27.1,99.7 26.5,99.8 24.5,101.9" fill="#2f9c62"/>
<line x1="24.0" y1="103.0" x2="40.4" y2="95.2" stroke="#b8cc58" stroke-width="2.2" stroke-linecap="round" opacity="0.75"/>
<polygon points="30.8,99.5 31.4,95.1 29.3,95.5 29.2,91.6 26.7,92.3 25.1,89.3 24.0,89.0 22.3,86.1 21.0,86.0 20.4,87.4 22.5,90.0 22.3,91.1 24.3,93.7 23.5,95.3 26.2,97.5 25.7,98.8 29.2,100.5" fill="#7ed69a"/>
<polygon points="30.2,99.1 30.3,95.6 28.7,95.8 28.4,92.6 26.6,92.9 25.2,90.4 24.3,90.1 22.9,87.6 21.9,87.4 21.6,88.5 23.3,90.7 23.3,91.6 25.0,93.9 24.5,95.1 26.7,97.1 26.4,98.1 29.1,99.8" fill="#3aa45e"/>
<line x1="30.0" y1="100.0" x2="23.0" y2="89.1" stroke="#a8c850" stroke-width="1.8" stroke-linecap="round" opacity="0.75"/>
<polygon points="19.5,92.6 23.8,92.6 22.9,90.4 26.2,89.2 25.6,87.3 28.0,85.2 28.0,84.0 26.7,83.8 24.4,86.0 22.7,85.3 21.1,88.3 19.2,87.4 18.5,91.4" fill="#7ed69a"/>
<polygon points="19.7,92.1 23.1,91.7 22.6,90.1 25.2,88.9 24.9,87.5 27.0,85.7 27.1,84.8 26.1,84.7 24.1,86.6 22.9,86.3 21.3,88.7 20.0,88.2 19.0,91.3" fill="#2f9c62"/>
<line x1="19.0" y1="92.0" x2="26.0" y2="85.8" stroke="#90c058" stroke-width="1.5" stroke-linecap="round" opacity="0.75"/>
<polygon points="34.7,103.4 37.6,101.9 37.2,100.8 39.5,98.9 38.7,97.5 40.7,95.4 40.0,94.0 38.7,94.0 37.3,96.5 36.0,96.6 34.8,99.2 32.5,98.6 33.3,102.6" fill="#7ed69a"/>
<polygon points="34.7,102.9 37.0,101.5 36.7,100.6 38.6,98.8 38.2,97.8 39.8,95.9 39.4,94.9 38.5,95.0 37.2,97.1 36.3,97.3 35.2,99.5 33.5,99.2 33.8,102.3" fill="#2f9c62"/>
<line x1="34.0" y1="103.0" x2="38.7" y2="96.0" stroke="#90c058" stroke-width="1.5" stroke-linecap="round" opacity="0.75"/>
<polygon points="133.0,95.9 136.9,94.8 136.8,93.5 140.1,91.9 139.2,90.0 143.2,89.0 141.6,86.5 145.0,84.9 144.0,82.9 146.6,80.7 146.0,79.0 144.3,78.6 142.4,81.5 141.1,81.5 139.2,84.3 136.5,83.1 136.0,87.2 133.8,86.4 132.8,90.1 131.9,90.4 131.0,94.1" fill="#7ed69a"/>
<polygon points="133.3,95.0 136.3,93.7 136.3,92.8 138.9,91.2 138.5,89.8 141.6,88.7 140.6,86.8 143.3,85.3 142.7,83.8 144.9,81.9 144.6,80.6 143.3,80.5 141.7,82.9 140.7,83.0 138.9,85.4 137.0,84.6 136.3,87.9 134.7,87.5 133.6,90.4 132.9,90.8 131.9,93.8" fill="#4aa856"/>
<line x1="132.0" y1="95.0" x2="142.9" y2="82.5" stroke="#b8cc58" stroke-width="2.4" stroke-linecap="round" opacity="0.75"/>
<polygon points="138.8,100.9 142.6,100.2 142.7,99.0 146.7,98.4 145.6,95.8 149.1,94.6 148.5,92.6 151.3,90.7 151.0,89.0 149.3,88.3 147.0,90.9 145.5,90.4 143.4,93.2 140.8,91.4 139.8,95.5 138.5,95.3 137.2,99.1" fill="#7ed69a"/>
<polygon points="139.1,100.2 142.1,99.3 142.3,98.4 145.5,97.6 144.9,95.7 147.7,94.5 147.4,93.0 149.8,91.3 149.7,90.1 148.4,89.7 146.4,91.9 145.2,91.6 143.4,93.9 141.5,92.8 140.3,96.0 139.3,96.0 138.0,98.9" fill="#2f9c62"/>
<line x1="138.0" y1="100.0" x2="148.1" y2="91.4" stroke="#b8cc58" stroke-width="2.2" stroke-linecap="round" opacity="0.75"/>
<polygon points="129.0,100.5 132.4,98.4 131.6,97.1 133.7,94.4 132.9,93.1 134.8,90.4 134.1,89.2 135.6,86.2 135.0,85.0 133.4,85.2 132.4,88.3 131.0,88.6 130.1,91.9 128.1,91.8 127.9,95.4 126.6,95.7 127.0,99.5" fill="#7ed69a"/>
<polygon points="128.9,99.7 131.5,97.8 131.0,96.7 132.7,94.4 132.2,93.4 133.8,91.0 133.4,90.0 134.6,87.4 134.3,86.5 133.1,86.7 132.2,89.4 131.2,89.8 130.3,92.5 128.9,92.6 128.6,95.6 127.6,95.9 127.6,99.1" fill="#2f9c62"/>
<line x1="128.0" y1="100.0" x2="133.5" y2="88.3" stroke="#b8cc58" stroke-width="2.0" stroke-linecap="round" opacity="0.75"/>
<polygon points="144.6,103.5 148.2,103.3 147.1,101.6 148.9,99.9 148.7,98.9 150.3,97.1 150.0,96.0 148.5,95.6 147.3,97.8 145.5,97.0 144.9,99.8 143.7,99.5 143.4,102.5" fill="#7ed69a"/>
<polygon points="144.7,103.1 147.4,102.6 146.7,101.3 148.2,99.9 148.1,99.1 149.6,97.5 149.4,96.7 148.3,96.5 147.2,98.3 145.9,97.9 145.2,100.1 144.3,100.0 143.8,102.4" fill="#3aa45e"/>
<line x1="144.0" y1="103.0" x2="148.7" y2="97.5" stroke="#90c058" stroke-width="1.5" stroke-linecap="round" opacity="0.75"/>
<polygon points="85.1,103.7 88.2,102.4 88.2,101.5 90.8,99.7 89.9,98.3 93.6,97.3 91.6,95.1 94.3,93.4 93.2,91.8 95.9,90.1 94.8,88.5 96.7,86.3 96.0,85.0 94.8,85.1 93.2,87.5 91.6,87.3 90.8,90.2 89.1,89.9 88.4,92.9 86.0,92.2 86.1,95.7 82.7,94.3 83.8,98.5 82.4,98.5 82.9,102.3" fill="#7ed69a"/>
<polygon points="85.2,102.8 87.6,101.4 87.7,100.7 89.7,99.1 89.2,98.0 92.0,96.9 90.7,95.3 92.8,93.7 92.2,92.5 94.3,90.9 93.6,89.7 95.2,87.8 94.8,86.8 93.9,86.9 92.6,89.0 91.4,89.0 90.5,91.4 89.3,91.3 88.6,93.8 86.8,93.4 86.6,96.3 84.3,95.4 84.7,98.7 83.7,98.8 83.7,101.8" fill="#2f9c62"/>
<line x1="84.0" y1="103.0" x2="93.4" y2="89.0" stroke="#90c058" stroke-width="2.4" stroke-linecap="round" opacity="0.75"/>
<polygon points="88.6,103.9 92.4,103.6 92.8,102.5 96.6,102.0 96.3,99.8 100.0,99.2 99.8,97.1 102.9,95.5 103.0,94.0 101.7,93.6 98.7,95.4 97.4,94.8 94.7,97.2 93.3,96.6 90.7,99.0 88.9,97.8 87.4,102.1" fill="#7ed69a"/>
<polygon points="89.0,103.3 92.1,102.7 92.5,101.9 95.6,101.2 95.6,99.7 98.7,99.0 98.6,97.4 101.3,96.0 101.5,94.9 100.5,94.7 97.9,96.3 96.9,96.0 94.5,97.9 93.4,97.5 91.1,99.5 89.8,98.8 88.2,102.0" fill="#3aa45e"/>
<line x1="88.0" y1="103.0" x2="99.7" y2="96.0" stroke="#90c058" stroke-width="2.0" stroke-linecap="round" opacity="0.75"/>
<polygon points="80.9,100.3 84.8,98.8 82.8,97.2 84.4,94.8 83.6,93.7 84.8,91.1 84.0,90.0 82.3,90.1 81.7,93.0 80.0,93.1 79.9,96.1 78.2,96.2 79.1,99.7" fill="#7ed69a"/>
<polygon points="80.7,99.8 83.6,98.3 82.3,97.1 83.6,95.0 83.1,94.1 84.1,91.9 83.6,91.0 82.4,91.2 81.8,93.6 80.6,93.8 80.3,96.3 79.1,96.5 79.6,99.4" fill="#2f9c62"/>
<line x1="80.0" y1="100.0" x2="83.1" y2="92.2" stroke="#a8c850" stroke-width="1.7" stroke-linecap="round" opacity="0.75"/>
<polygon points="58.5,84.3 56.8,79.2 55.3,81.7 53.5,77.0 51.5,81.0 49.0,78.7 47.7,80.5 45.1,78.3 43.9,79.9 41.1,78.4 40.0,79.5 37.3,77.9 36.0,79.6 36.2,81.7 39.3,81.8 39.6,83.6 42.8,83.5 43.0,85.5 46.3,85.1 46.3,88.0 49.8,86.7 49.5,90.5 53.4,88.2 54.0,88.8 57.5,87.7" fill="#86e2aa"/>
<polygon points="57.4,84.6 55.8,80.9 54.6,82.6 52.9,79.3 51.4,82.0 49.1,80.3 48.1,81.4 45.8,79.8 44.9,80.8 42.5,79.7 41.6,80.4 39.2,79.1 38.2,80.2 38.5,81.7 41.1,81.9 41.4,83.2 44.1,83.3 44.4,84.7 47.2,84.6 47.3,86.6 50.3,85.8 50.2,88.5 53.3,87.1 53.9,87.5 56.8,86.9" fill="#2eb076"/>
<line x1="58.0" y1="86.0" x2="40.8" y2="81.0" stroke="#96c850" stroke-width="2.4" stroke-linecap="round" opacity="0.75"/>
<polygon points="67.4,72.3 64.9,68.7 63.7,69.7 60.9,67.4 59.6,69.2 57.2,65.0 55.5,68.8 52.7,66.0 51.3,68.4 48.3,66.5 47.1,68.1 44.0,67.0 42.8,68.3 43.2,70.2 46.6,70.4 46.9,72.4 50.4,72.0 50.7,74.4 54.3,73.5 54.7,75.5 58.3,75.0 58.1,79.3 62.2,76.4 62.7,77.9 66.6,75.7" fill="#86e2aa"/>
<polygon points="66.3,72.6 64.0,70.0 63.1,70.7 60.6,68.9 59.6,70.2 57.3,67.2 56.0,69.7 53.6,67.7 52.5,69.3 49.9,67.8 48.9,68.9 46.1,68.0 45.2,68.9 45.6,70.2 48.5,70.5 48.9,71.9 51.9,71.7 52.2,73.4 55.2,72.9 55.7,74.3 58.6,74.1 58.7,77.1 62.0,75.2 62.5,76.3 65.8,74.9" fill="#26a67a"/>
<line x1="67.0" y1="74.0" x2="48.1" y2="69.6" stroke="#a8cc48" stroke-width="2.4" stroke-linecap="round" opacity="0.75"/>
<polygon points="75.8,60.8 74.8,57.0 73.4,57.7 72.0,54.5 70.1,56.2 68.2,53.8 66.8,54.7 64.9,52.2 63.4,53.4 61.0,51.7 59.7,52.4 59.5,54.1 62.2,55.3 62.0,56.8 64.9,57.8 63.9,60.6 67.6,60.1 67.2,62.3 70.5,62.5 70.7,63.3 74.2,63.2" fill="#86e2aa"/>
<polygon points="74.9,60.8 73.8,57.9 72.8,58.4 71.4,55.9 70.0,57.0 68.2,55.1 67.1,55.6 65.4,53.7 64.3,54.4 62.2,53.0 61.2,53.4 61.2,54.6 63.5,55.7 63.5,56.8 65.8,57.7 65.3,59.7 68.3,59.7 68.1,61.2 70.7,61.6 71.1,62.3 73.9,62.5" fill="#2aaa6e"/>
<line x1="75.0" y1="62.0" x2="63.1" y2="54.5" stroke="#b4cc44" stroke-width="2.4" stroke-linecap="round" opacity="0.75"/>
<polygon points="57.7,95.3 59.8,99.7 61.2,97.3 64.0,99.0 65.1,97.6 67.7,99.7 69.0,97.8 71.9,98.7 73.0,97.5 72.5,96.2 69.5,95.4 69.1,93.9 65.9,93.9 65.8,91.0 62.3,92.5 61.8,91.1 58.3,92.7" fill="#86e2aa"/>
<polygon points="58.4,95.0 60.4,98.1 61.4,96.5 63.9,97.8 64.8,96.9 67.1,98.4 68.1,97.2 70.6,97.9 71.5,97.2 71.0,96.2 68.5,95.6 68.0,94.5 65.3,94.4 65.1,92.4 62.2,93.2 61.8,92.3 58.8,93.2" fill="#36b46a"/>
<line x1="58.0" y1="94.0" x2="69.7" y2="96.7" stroke="#96c850" stroke-width="2.4" stroke-linecap="round" opacity="0.75"/>
<polygon points="64.1,85.5 67.8,88.8 68.4,86.4 71.8,87.6 72.4,85.4 75.9,87.2 76.5,84.2 79.8,84.3 80.5,82.5 79.5,80.6 76.3,81.5 75.3,80.2 72.1,81.1 71.0,78.2 67.9,80.8 66.9,79.1 63.9,82.5" fill="#86e2aa"/>
<polygon points="64.8,85.0 67.8,87.1 68.4,85.5 71.3,86.2 71.9,84.7 74.9,85.9 75.4,83.9 78.2,83.9 78.8,82.7 78.0,81.3 75.2,82.0 74.4,81.2 71.6,81.8 70.7,79.9 68.0,81.7 67.2,80.5 64.6,82.9" fill="#2eb076"/>
<line x1="64.0" y1="84.0" x2="76.9" y2="82.8" stroke="#88c458" stroke-width="2.4" stroke-linecap="round" opacity="0.75"/>
<polygon points="71.7,71.5 74.0,74.7 75.0,73.7 77.2,78.0 78.8,74.0 81.2,76.9 82.6,74.3 85.1,76.7 86.4,74.4 89.2,75.7 90.3,74.0 90.0,71.9 86.9,72.0 86.5,70.2 83.4,70.5 83.2,67.9 79.9,69.2 79.5,67.5 76.3,67.9 76.0,65.8 72.3,68.5" fill="#86e2aa"/>
<polygon points="72.5,71.2 74.6,73.5 75.4,72.8 77.4,75.8 78.7,73.2 80.9,75.2 81.9,73.5 84.2,75.2 85.1,73.7 87.6,74.8 88.5,73.6 88.1,72.1 85.5,72.1 85.1,70.9 82.5,70.9 82.2,69.1 79.4,69.9 79.0,68.7 76.3,68.8 76.0,67.4 73.0,69.1" fill="#2aaa6e"/>
<line x1="72.0" y1="70.0" x2="86.3" y2="73.1" stroke="#96c850" stroke-width="2.4" stroke-linecap="round" opacity="0.75"/>
<polygon points="78.7,60.9 82.5,61.0 82.3,59.4 86.1,59.4 85.2,56.8 88.5,56.1 88.0,54.1 90.7,52.6 90.5,51.0 88.9,50.1 86.8,52.4 84.9,51.2 83.3,54.2 81.1,52.4 79.9,56.1 78.6,55.5 77.3,59.1" fill="#86e2aa"/>
<polygon points="79.0,60.3 82.0,60.0 82.0,58.9 85.0,58.5 84.5,56.7 87.2,55.9 87.0,54.4 89.3,53.1 89.2,51.9 88.1,51.4 86.2,53.3 84.8,52.5 83.2,54.9 81.6,53.7 80.4,56.6 79.4,56.3 78.0,59.0" fill="#26a67a"/>
<line x1="78.0" y1="60.0" x2="87.8" y2="53.0" stroke="#96c850" stroke-width="2.1" stroke-linecap="round" opacity="0.75"/>
<polygon points="48.0,86.9 45.3,83.0 44.7,86.2 42.0,85.0 41.3,86.8 38.7,86.4 38.0,88.0 38.7,89.1 41.3,89.2 42.0,91.0 44.7,89.8 45.3,92.0 48.0,89.1" fill="#86e2aa"/>
<polygon points="47.6,87.3 45.3,84.6 44.7,86.7 42.4,85.9 41.9,87.2 39.6,86.9 39.0,88.0 39.6,88.8 41.9,88.8 42.4,90.1 44.7,89.3 45.3,90.7 47.6,88.7" fill="#2aaa6e"/>
<line x1="48.0" y1="88.0" x2="40.2" y2="88.0" stroke="#a8cc48" stroke-width="2.0" stroke-linecap="round" opacity="0.75"/>
<polygon points="51.4,77.1 47.3,76.2 48.2,78.5 45.6,79.4 46.0,81.1 43.4,82.1 44.0,84.0 45.2,84.5 47.4,82.9 49.0,84.1 50.4,81.5 51.9,82.3 52.6,78.9" fill="#86e2aa"/>
<polygon points="51.2,77.7 48.1,77.3 48.6,79.0 46.5,79.9 46.6,81.0 44.5,82.0 44.8,83.4 45.7,83.7 47.6,82.3 48.8,83.0 50.1,81.0 51.2,81.4 52.1,78.8" fill="#2eb076"/>
<line x1="52.0" y1="78.0" x2="45.8" y2="82.7" stroke="#88c458" stroke-width="2.0" stroke-linecap="round" opacity="0.75"/>
<polygon points="49.7,93.1 47.0,92.4 46.8,93.5 44.3,93.3 44.3,95.1 42.0,95.5 42.0,97.0 42.9,97.8 45.0,96.9 46.1,98.2 47.9,96.5 49.1,98.2 50.3,94.9" fill="#86e2aa"/>
<polygon points="49.5,93.5 47.2,93.2 47.0,94.0 44.9,94.0 44.9,95.2 42.9,95.6 42.8,96.7 43.5,97.2 45.3,96.5 46.2,97.3 47.8,96.0 48.7,97.1 49.9,94.7" fill="#2aaa6e"/>
<line x1="50.0" y1="94.0" x2="43.8" y2="96.3" stroke="#a8cc48" stroke-width="1.7" stroke-linecap="round" opacity="0.75"/>
<polygon points="56.8,102.0 59.5,100.3 59.3,99.3 63.5,98.4 61.7,96.5 65.8,95.5 64.0,93.6 68.2,92.7 65.7,90.4 70.4,89.8 67.4,87.2 70.5,85.6 69.0,83.9 73.9,83.4 70.7,80.7 75.5,80.2 72.4,77.5 75.8,76.1 74.0,74.2 78.4,73.4 75.7,71.0 78.9,69.5 77.3,67.7 81.1,66.6 78.9,64.5 81.5,62.6 80.5,61.2 83.3,59.4 82.1,57.9 85.2,56.3 83.7,54.6 86.4,52.8 85.3,51.3 87.0,49.0 86.8,48.0 88.6,45.7 88.0,44.5 86.7,44.6 85.6,47.3 84.3,47.4 83.4,50.2 81.5,49.9 81.3,53.2 78.9,52.7 79.2,56.2 76.4,55.4 77.1,59.2 75.3,58.9 75.1,62.2 73.1,61.9 73.0,65.2 69.5,64.0 71.0,68.3 68.3,67.5 69.0,71.3 66.3,70.6 67.0,74.3 62.7,72.7 65.0,77.4 62.8,76.9 63.0,80.4 59.4,79.2 61.0,83.4 56.3,81.6 59.0,86.5 56.6,86.0 57.0,89.5 55.0,89.2 55.6,92.9 53.1,92.3 54.4,96.4 53.3,96.6 53.2,100.0" fill="#86e2aa"/>
<polygon points="57.5,99.4 59.7,97.8 59.6,97.0 62.7,96.0 61.6,94.6 64.6,93.4 63.4,92.0 66.6,91.0 64.9,89.3 68.4,88.4 66.4,86.5 68.8,85.0 67.8,83.7 71.4,82.9 69.3,81.0 72.9,80.2 70.8,78.2 73.4,76.9 72.2,75.4 75.5,74.5 73.7,72.7 76.1,71.2 75.1,69.9 78.0,68.7 76.6,67.1 78.6,65.4 78.0,64.3 80.1,62.7 79.4,61.5 81.7,60.0 80.8,58.7 82.9,57.1 82.2,55.9 83.6,53.9 83.5,53.1 85.0,51.1 84.7,50.1 83.7,50.3 82.7,52.6 81.8,52.8 80.9,55.2 79.5,55.1 79.1,57.8 77.5,57.5 77.4,60.4 75.5,60.0 75.7,63.0 74.3,62.9 73.9,65.6 72.5,65.5 72.2,68.2 69.8,67.5 70.5,70.8 68.6,70.4 68.8,73.4 66.9,73.1 67.1,76.1 64.2,75.1 65.4,78.7 63.9,78.5 63.7,81.3 61.3,80.6 62.0,84.0 58.8,82.8 60.4,86.6 58.7,86.4 58.7,89.3 57.3,89.2 57.4,92.1 55.6,91.8 56.2,95.1 55.4,95.3 55.1,98.0" fill="#2eb076"/>
<line x1="55.0" y1="101.0" x2="80.7" y2="56.9" stroke="#b4cc44" stroke-width="2.4" stroke-linecap="round" opacity="0.75"/>
<polygon points="111.7,78.6 107.8,75.6 107.4,78.2 103.9,77.9 103.4,79.5 99.9,79.2 99.4,81.0 96.0,81.1 95.5,83.0 96.6,84.2 99.9,83.5 100.9,84.8 104.1,83.5 105.2,85.0 108.3,83.3 109.3,84.0 112.3,81.4" fill="#86e2aa"/>
<polygon points="111.2,79.2 107.9,77.2 107.5,79.0 104.5,78.9 104.0,80.1 101.1,80.0 100.5,81.2 97.6,81.4 97.2,82.7 98.0,83.5 100.9,82.9 101.7,83.7 104.5,82.7 105.4,83.8 108.1,82.5 108.9,83.0 111.5,81.1" fill="#36b46a"/>
<line x1="112.0" y1="80.0" x2="99.1" y2="82.3" stroke="#b4cc44" stroke-width="2.4" stroke-linecap="round" opacity="0.75"/>
<polygon points="114.9,64.6 111.6,61.4 111.1,63.6 107.9,61.5 107.4,64.4 104.2,62.3 103.8,65.2 100.8,65.1 100.1,66.2 97.1,66.3 96.5,67.6 97.4,69.1 100.3,68.4 101.2,70.2 104.0,68.7 105.0,71.5 107.8,68.9 108.8,72.1 111.5,69.0 112.5,71.5 115.1,67.4" fill="#86e2aa"/>
<polygon points="114.2,65.1 111.4,62.9 110.9,64.5 108.2,63.1 107.8,65.1 105.1,63.7 104.6,65.7 102.0,65.7 101.5,66.4 98.9,66.5 98.3,67.4 99.1,68.4 101.6,67.9 102.3,69.1 104.8,68.1 105.6,70.0 108.0,68.1 108.9,70.3 111.2,68.2 112.0,69.9 114.3,67.0" fill="#26a67a"/>
<line x1="115.0" y1="66.0" x2="100.6" y2="67.2" stroke="#96c850" stroke-width="2.4" stroke-linecap="round" opacity="0.75"/>
<polygon points="112.8,84.1 115.2,87.9 116.3,85.4 119.0,87.1 120.0,85.3 122.8,86.5 123.8,84.6 123.3,83.1 120.4,82.8 119.9,81.0 116.9,81.6 116.4,79.8 113.2,81.9" fill="#86e2aa"/>
<polygon points="113.3,83.8 115.5,86.5 116.3,84.8 118.7,86.0 119.5,84.8 121.9,85.7 122.7,84.4 122.2,83.4 119.7,83.2 119.3,81.8 116.7,82.2 116.3,81.0 113.5,82.3" fill="#26a67a"/>
<line x1="113.0" y1="83.0" x2="121.4" y2="84.2" stroke="#88c458" stroke-width="2.1" stroke-linecap="round" opacity="0.75"/>
<polygon points="114.7,73.4 117.0,77.5 118.1,75.2 120.6,77.8 121.8,75.3 124.4,77.0 125.5,75.2 128.3,76.1 129.3,74.6 128.9,72.8 126.0,72.7 125.5,71.0 122.5,71.3 122.4,67.7 119.0,70.1 118.5,68.8 115.3,70.6" fill="#86e2aa"/>
<polygon points="115.4,73.0 117.4,75.9 118.3,74.4 120.5,76.2 121.5,74.6 123.8,75.8 124.6,74.6 127.1,75.3 127.9,74.3 127.5,73.1 124.9,72.9 124.5,71.8 122.0,71.9 121.8,69.4 119.0,70.9 118.5,70.0 115.7,71.2" fill="#2eb076"/>
<line x1="115.0" y1="72.0" x2="126.2" y2="74.0" stroke="#b4cc44" stroke-width="2.4" stroke-linecap="round" opacity="0.75"/>
<polygon points="117.0,61.1 119.9,63.3 120.5,61.8 123.2,62.6 123.8,61.0 126.6,61.1 127.2,59.6 126.5,58.2 123.8,58.5 123.0,56.8 120.3,57.9 119.6,56.5 117.0,58.9" fill="#86e2aa"/>
<polygon points="117.4,60.8 119.8,62.2 120.4,61.2 122.7,61.7 123.3,60.6 125.6,60.6 126.2,59.6 125.6,58.7 123.2,58.9 122.6,57.7 120.3,58.6 119.7,57.6 117.4,59.2" fill="#2aaa6e"/>
<line x1="117.0" y1="60.0" x2="125.0" y2="59.7" stroke="#88c458" stroke-width="2.1" stroke-linecap="round" opacity="0.75"/>
<polygon points="106.8,87.4 107.8,83.3 105.3,84.3 104.6,81.5 102.8,82.0 101.3,79.8 100.0,80.0 99.2,81.4 101.2,83.3 100.1,84.9 102.7,86.3 101.3,88.2 105.2,88.6" fill="#86e2aa"/>
<polygon points="106.3,87.3 106.7,84.1 104.9,84.7 104.2,82.4 102.9,82.7 101.6,80.8 100.6,80.8 100.1,81.9 101.7,83.5 101.1,84.7 103.1,86.1 102.3,87.4 105.2,88.1" fill="#36b46a"/>
<line x1="106.0" y1="88.0" x2="101.3" y2="81.8" stroke="#88c458" stroke-width="1.8" stroke-linecap="round" opacity="0.75"/>
<polygon points="111.8,90.9 113.3,94.1 114.3,92.2 116.2,93.4 117.1,92.3 119.2,92.9 120.0,92.0 119.8,90.6 117.6,90.4 117.3,89.1 115.0,89.1 115.0,87.3 112.2,89.1" fill="#86e2aa"/>
<polygon points="112.2,90.7 113.6,92.9 114.4,91.7 116.1,92.6 116.7,91.9 118.6,92.4 119.2,91.8 119.0,90.8 117.1,90.6 116.8,89.7 114.9,89.6 114.7,88.3 112.5,89.5" fill="#36b46a"/>
<line x1="112.0" y1="90.0" x2="118.2" y2="91.6" stroke="#b4cc44" stroke-width="1.7" stroke-linecap="round" opacity="0.75"/>
<polygon points="112.4,93.3 114.5,90.6 114.1,89.8 119.4,87.7 115.5,86.2 119.5,83.9 115.9,82.5 118.7,79.9 116.3,78.8 118.9,76.2 116.6,75.0 118.7,72.3 117.0,71.3 120.7,68.8 117.3,67.5 118.7,64.7 117.6,63.8 119.6,61.0 117.9,60.0 119.0,57.1 118.1,56.2 119.9,53.5 118.2,52.4 118.8,49.5 118.0,48.6 116.9,49.2 116.5,52.2 114.8,52.6 115.4,55.8 114.1,56.3 114.4,59.4 111.8,59.7 113.4,63.0 111.3,63.4 112.5,66.7 110.0,67.0 111.5,70.3 109.9,70.8 110.6,74.0 106.6,74.1 109.7,77.6 104.7,77.6 108.8,81.3 105.2,81.5 108.0,85.0 106.0,85.4 108.1,88.8 106.7,89.3 108.6,92.7" fill="#86e2aa"/>
<polygon points="112.1,91.4 113.6,89.1 113.4,88.4 117.1,86.4 114.4,85.3 117.2,83.1 114.8,82.1 116.8,79.8 115.2,78.9 117.0,76.6 115.5,75.7 117.0,73.3 115.9,72.4 118.5,70.3 116.2,69.2 117.3,66.8 116.5,66.0 118.0,63.6 116.8,62.8 117.7,60.3 117.1,59.6 118.4,57.2 117.3,56.3 117.8,53.8 117.2,53.0 116.5,53.6 116.1,56.1 115.0,56.6 115.3,59.3 114.3,59.7 114.5,62.4 112.7,62.7 113.7,65.5 112.2,65.9 112.9,68.7 111.2,69.0 112.2,71.8 111.0,72.3 111.4,75.0 108.7,75.2 110.7,78.1 107.3,78.2 110.0,81.3 107.5,81.5 109.3,84.4 107.9,84.8 109.3,87.7 108.3,88.2 109.5,91.0" fill="#26a67a"/>
<line x1="110.5" y1="93.0" x2="116.3" y2="58.4" stroke="#a8cc48" stroke-width="2.4" stroke-linecap="round" opacity="0.75"/>
</g>
<rect x="19" y="10.4" width="132.7" height="92.35" fill="#15150f" filter="url(#nz)" opacity="0.15"/>
<path d="M22,101.3 H60 M64,101.3 H92" stroke="#c8d0b8" stroke-width="0.8" stroke-dasharray="1.5 1.2 0.8 1" opacity="0.45"/>
</g>
<rect x="21.20" y="88.70" width="8.60" height="4.40" fill="#fff"/>
<text class="san" x="25.5" y="92.1" font-size="3" text-anchor="middle">20 μ</text>
<rect x="32.30" y="88.70" width="6.40" height="4.40" fill="#2a9ae0"/>
<text class="san" x="35.5" y="92.1" font-size="3" text-anchor="middle" fill="#124">Cu</text>
<rect x="40.60" y="88.70" width="6.40" height="4.40" fill="#f0d818"/>
<text class="san" x="43.8" y="92.1" font-size="3" text-anchor="middle" fill="#431">Sn</text>
<rect x="121.00" y="90.90" width="28.30" height="11.40" fill="#fff"/>
<text class="se" x="134.9" y="96.7" font-size="5.0" text-anchor="middle">50 μm</text>
<rect x="124.30" y="98.70" width="21.20" height="1.50" fill="#000"/>
<g clip-path="url(#cS)">
<rect x="153.80" y="10.40" width="60.30" height="44.00" fill="#433b0e"/>
<g filter="url(#b1)">
<circle cx="194.5" cy="37.7" r="2.0" fill="#2a2406"/>
<circle cx="159.7" cy="48.5" r="2.1" fill="#7e6e1a"/>
<circle cx="170.1" cy="38.4" r="1.7" fill="#8a7a20"/>
<circle cx="161.6" cy="49.2" r="0.8" fill="#2a2406"/>
<circle cx="189.2" cy="32.4" r="2.1" fill="#2a2406"/>
<circle cx="163.0" cy="48.2" r="1.2" fill="#2a2406"/>
<circle cx="190.4" cy="27.1" r="1.4" fill="#7e6e1a"/>
<circle cx="171.3" cy="25.9" r="1.3" fill="#2a2406"/>
<circle cx="187.3" cy="27.3" r="1.3" fill="#8a7a20"/>
<circle cx="205.0" cy="32.5" r="1.4" fill="#38310a"/>
<circle cx="186.2" cy="46.1" r="1.4" fill="#7e6e1a"/>
<circle cx="188.9" cy="14.0" r="2.1" fill="#5e5212"/>
<circle cx="212.1" cy="37.4" r="1.1" fill="#5e5212"/>
<circle cx="166.3" cy="29.2" r="2.1" fill="#6e6016"/>
<circle cx="155.5" cy="21.5" r="2.1" fill="#5e5212"/>
<circle cx="209.2" cy="44.8" r="1.6" fill="#7e6e1a"/>
<circle cx="185.0" cy="33.3" r="1.8" fill="#7e6e1a"/>
<circle cx="181.9" cy="11.8" r="1.7" fill="#7e6e1a"/>
<circle cx="210.9" cy="40.4" r="1.5" fill="#6e6016"/>
<circle cx="178.6" cy="32.5" r="1.7" fill="#2a2406"/>
<circle cx="163.3" cy="18.5" r="1.4" fill="#7e6e1a"/>
<circle cx="180.4" cy="38.1" r="2.2" fill="#5e5212"/>
<circle cx="195.5" cy="43.6" r="0.9" fill="#5e5212"/>
<circle cx="173.1" cy="54.0" r="2.0" fill="#2a2406"/>
<circle cx="164.5" cy="39.5" r="1.2" fill="#5e5212"/>
<circle cx="203.2" cy="54.6" r="2.0" fill="#7e6e1a"/>
<circle cx="191.9" cy="33.6" r="1.9" fill="#38310a"/>
<circle cx="184.3" cy="18.5" r="1.1" fill="#8a7a20"/>
<circle cx="187.9" cy="14.8" r="1.6" fill="#8a7a20"/>
<circle cx="192.2" cy="11.9" r="1.4" fill="#6e6016"/>
<circle cx="172.4" cy="41.1" r="0.8" fill="#5e5212"/>
<circle cx="177.9" cy="14.4" r="0.8" fill="#6e6016"/>
<circle cx="165.8" cy="32.4" r="1.6" fill="#5e5212"/>
<circle cx="206.3" cy="50.3" r="1.5" fill="#38310a"/>
<circle cx="188.5" cy="28.5" r="1.0" fill="#38310a"/>
<circle cx="185.1" cy="32.9" r="0.8" fill="#6e6016"/>
<circle cx="164.2" cy="33.5" r="2.0" fill="#2a2406"/>
<circle cx="179.8" cy="46.0" r="1.7" fill="#8a7a20"/>
<circle cx="200.2" cy="24.5" r="1.8" fill="#5e5212"/>
<circle cx="170.5" cy="11.5" r="1.7" fill="#2a2406"/>
<circle cx="157.8" cy="18.6" r="1.7" fill="#6e6016"/>
<circle cx="157.3" cy="50.1" r="1.6" fill="#6e6016"/>
<circle cx="180.4" cy="37.9" r="1.1" fill="#6e6016"/>
<circle cx="163.6" cy="36.4" r="1.0" fill="#6e6016"/>
<circle cx="207.9" cy="46.7" r="1.2" fill="#2a2406"/>
<circle cx="169.1" cy="49.9" r="2.2" fill="#6e6016"/>
<circle cx="168.6" cy="27.5" r="1.8" fill="#38310a"/>
<circle cx="178.8" cy="27.9" r="1.8" fill="#6e6016"/>
<circle cx="201.6" cy="21.0" r="1.0" fill="#5e5212"/>
<circle cx="176.7" cy="10.3" r="2.0" fill="#7e6e1a"/>
<circle cx="187.7" cy="15.2" r="1.5" fill="#7e6e1a"/>
<circle cx="174.2" cy="39.3" r="2.1" fill="#7e6e1a"/>
<circle cx="203.5" cy="25.8" r="1.1" fill="#38310a"/>
<circle cx="182.0" cy="25.5" r="1.4" fill="#5e5212"/>
<circle cx="193.9" cy="25.4" r="1.0" fill="#8a7a20"/>
<circle cx="161.8" cy="18.8" r="1.6" fill="#38310a"/>
<circle cx="187.3" cy="31.0" r="1.9" fill="#38310a"/>
<circle cx="163.6" cy="25.9" r="1.8" fill="#7e6e1a"/>
<circle cx="191.8" cy="36.1" r="1.2" fill="#7e6e1a"/>
<circle cx="184.3" cy="20.2" r="1.4" fill="#38310a"/>
<circle cx="210.5" cy="54.9" r="1.6" fill="#7e6e1a"/>
<circle cx="189.3" cy="26.6" r="1.1" fill="#2a2406"/>
<circle cx="184.6" cy="15.6" r="1.9" fill="#8a7a20"/>
<circle cx="184.8" cy="34.4" r="1.2" fill="#7e6e1a"/>
<circle cx="155.7" cy="42.3" r="1.0" fill="#6e6016"/>
<circle cx="177.4" cy="13.9" r="1.0" fill="#38310a"/>
<circle cx="173.3" cy="39.8" r="1.0" fill="#2a2406"/>
<circle cx="208.8" cy="46.2" r="1.9" fill="#38310a"/>
<circle cx="158.0" cy="24.0" r="1.1" fill="#38310a"/>
<circle cx="203.0" cy="28.0" r="1.3" fill="#7e6e1a"/>
<circle cx="200.5" cy="49.7" r="2.0" fill="#38310a"/>
<circle cx="210.2" cy="17.9" r="1.3" fill="#8a7a20"/>
<circle cx="195.5" cy="50.4" r="0.8" fill="#8a7a20"/>
<circle cx="196.0" cy="21.2" r="2.0" fill="#5e5212"/>
<circle cx="208.4" cy="14.4" r="1.2" fill="#5e5212"/>
<circle cx="208.8" cy="43.0" r="1.8" fill="#6e6016"/>
<circle cx="178.3" cy="37.4" r="1.4" fill="#5e5212"/>
<circle cx="163.4" cy="43.2" r="1.6" fill="#8a7a20"/>
<circle cx="192.3" cy="18.1" r="2.0" fill="#2a2406"/>
<circle cx="183.9" cy="33.4" r="2.1" fill="#8a7a20"/>
<circle cx="195.1" cy="25.7" r="0.8" fill="#8a7a20"/>
<circle cx="171.2" cy="11.9" r="2.0" fill="#2a2406"/>
<circle cx="195.8" cy="53.8" r="1.8" fill="#6e6016"/>
<circle cx="201.5" cy="19.5" r="2.1" fill="#8a7a20"/>
<circle cx="208.8" cy="28.8" r="1.8" fill="#8a7a20"/>
<circle cx="190.9" cy="19.9" r="1.5" fill="#5e5212"/>
<circle cx="210.8" cy="29.1" r="2.1" fill="#8a7a20"/>
<circle cx="184.2" cy="41.0" r="2.0" fill="#8a7a20"/>
<circle cx="181.2" cy="12.4" r="1.8" fill="#7e6e1a"/>
<circle cx="194.4" cy="48.1" r="1.9" fill="#7e6e1a"/>
<circle cx="199.7" cy="12.0" r="1.8" fill="#2a2406"/>
<circle cx="169.7" cy="34.6" r="2.2" fill="#8a7a20"/>
<circle cx="168.2" cy="21.7" r="2.1" fill="#38310a"/>
<circle cx="175.5" cy="28.5" r="1.1" fill="#5e5212"/>
<circle cx="162.2" cy="40.9" r="1.5" fill="#7e6e1a"/>
<circle cx="168.3" cy="20.9" r="1.5" fill="#7e6e1a"/>
<circle cx="162.0" cy="38.8" r="1.8" fill="#38310a"/>
<circle cx="207.1" cy="16.4" r="1.6" fill="#5e5212"/>
<circle cx="191.8" cy="15.3" r="1.4" fill="#38310a"/>
<circle cx="194.6" cy="17.0" r="2.2" fill="#7e6e1a"/>
<circle cx="203.9" cy="15.2" r="1.2" fill="#5e5212"/>
<circle cx="183.2" cy="12.0" r="2.1" fill="#5e5212"/>
<circle cx="165.8" cy="41.6" r="1.4" fill="#6e6016"/>
<circle cx="163.7" cy="30.0" r="1.6" fill="#5e5212"/>
<circle cx="164.1" cy="13.2" r="0.8" fill="#7e6e1a"/>
<circle cx="159.0" cy="42.3" r="2.2" fill="#2a2406"/>
<circle cx="169.9" cy="39.0" r="2.1" fill="#7e6e1a"/>
<circle cx="165.4" cy="34.4" r="0.8" fill="#6e6016"/>
<circle cx="192.7" cy="38.2" r="2.1" fill="#8a7a20"/>
<circle cx="196.0" cy="39.4" r="0.9" fill="#8a7a20"/>
<circle cx="155.7" cy="44.8" r="2.0" fill="#5e5212"/>
<circle cx="176.1" cy="53.3" r="1.5" fill="#8a7a20"/>
<circle cx="164.1" cy="45.3" r="2.0" fill="#8a7a20"/>
<circle cx="191.0" cy="27.1" r="1.7" fill="#5e5212"/>
<circle cx="173.2" cy="26.6" r="1.6" fill="#5e5212"/>
<circle cx="204.3" cy="21.4" r="0.9" fill="#6e6016"/>
<circle cx="188.0" cy="38.3" r="1.9" fill="#8a7a20"/>
<circle cx="178.2" cy="12.3" r="1.1" fill="#7e6e1a"/>
<circle cx="184.0" cy="17.1" r="1.2" fill="#2a2406"/>
<circle cx="191.6" cy="16.4" r="1.1" fill="#38310a"/>
</g>
<g filter="url(#rg)">
<polygon points="185.7,26.0 181.0,33.0 172.0,36.0 170.0,41.0 162.0,45.0 160.0,51.0 155.0,55.0 200.0,55.0 198.0,49.0 196.0,44.0 192.0,40.0 191.0,34.0 188.0,31.0" fill="#a8961e" opacity="0.45"/>
<polygon points="201.0,29.0 198.0,34.0 194.5,39.0 195.0,46.0 196.0,55.0 214.2,55.0 214.2,46.0 209.5,38.0 205.0,33.0" fill="#a8961e" opacity="0.45"/>
<polygon points="183.0,35.0 180.2,32.6 179.6,34.5 176.9,34.3 176.3,35.3 173.6,35.1 173.0,36.5 173.7,37.6 176.4,37.4 177.1,38.2 179.7,37.8 180.6,40.8 183.0,37.0" fill="#dcc834" stroke="#f2e458" stroke-width="0.6" stroke-linejoin="round"/>
<line x1="183.00" y1="36.00" x2="175.00" y2="36.40" stroke="#f0e870" stroke-width="1.4400000000000002"/>
<polygon points="181.5,42.8 178.4,40.4 177.6,41.8 174.5,40.0 173.8,42.3 170.7,41.2 169.9,42.9 166.8,43.0 166.0,44.0 166.8,45.0 169.9,45.1 170.7,46.1 173.8,45.7 174.5,48.5 177.6,46.2 178.4,46.8 181.5,45.2" fill="#dcc834" stroke="#f2e458" stroke-width="0.6" stroke-linejoin="round"/>
<line x1="181.50" y1="44.00" x2="169.10" y2="44.00" stroke="#f0e870" stroke-width="1.7600000000000002"/>
<polygon points="180.0,49.8 177.1,47.7 176.4,48.6 173.6,46.9 172.9,49.0 170.1,46.7 169.5,49.5 166.6,48.9 166.0,50.0 163.1,49.3 162.5,50.6 159.7,50.5 159.0,51.5 159.7,52.4 162.5,52.3 163.3,53.7 166.0,52.7 166.8,54.0 169.5,53.0 170.3,55.9 173.1,53.3 173.8,56.0 176.6,53.5 177.3,54.3 180.0,52.2" fill="#d6c22e" stroke="#f2e458" stroke-width="0.6" stroke-linejoin="round"/>
<line x1="180.00" y1="51.00" x2="163.20" y2="51.40" stroke="#f0e870" stroke-width="1.8"/>
<polygon points="170.5,54.2 168.8,50.5 167.4,51.4 165.2,48.8 163.7,49.8 161.4,47.3 159.9,48.2 157.2,46.5 156.0,47.0 156.1,48.5 159.1,49.8 159.3,50.9 162.3,52.2 162.1,54.1 165.6,54.6 165.6,56.2 169.5,55.8" fill="#d6c22e" stroke="#f2e458" stroke-width="0.6" stroke-linejoin="round"/>
<line x1="170.00" y1="55.00" x2="158.80" y2="48.60" stroke="#f0e870" stroke-width="1.4400000000000002"/>
<polygon points="184.8,37.7 187.7,39.5 187.2,37.3 189.4,37.5 189.2,35.8 191.0,35.1 191.0,34.0 190.1,33.1 188.5,34.2 187.4,33.0 186.1,34.7 185.3,34.2 184.2,36.3" fill="#ccb82a" stroke="#f2e458" stroke-width="0.6" stroke-linejoin="round"/>
<line x1="184.50" y1="37.00" x2="189.70" y2="34.60" stroke="#f0e870" stroke-width="1.2000000000000002"/>
<polygon points="183.1,46.1 186.8,48.7 187.5,46.5 191.0,47.0 191.8,45.5 195.3,45.9 196.0,44.0 195.0,43.0 191.6,43.2 190.6,41.7 187.2,42.8 186.1,40.3 182.9,43.9" fill="#d6c22e" stroke="#f2e458" stroke-width="0.6" stroke-linejoin="round"/>
<line x1="183.00" y1="45.00" x2="193.40" y2="44.20" stroke="#f0e870" stroke-width="1.6"/>
<polygon points="181.6,53.1 185.2,54.7 185.9,53.6 189.4,55.1 189.9,52.6 193.4,53.3 194.0,51.5 197.4,51.8 198.0,50.0 197.0,48.9 193.8,49.5 192.7,47.9 189.6,49.4 188.6,48.3 185.4,49.4 184.3,47.3 181.4,50.9" fill="#d6c22e" stroke="#f2e458" stroke-width="0.6" stroke-linejoin="round"/>
<line x1="181.50" y1="52.00" x2="194.70" y2="50.40" stroke="#f0e870" stroke-width="1.6800000000000002"/>
<polygon points="180.4,58.3 183.4,56.0 182.2,55.0 184.5,52.5 183.2,51.5 187.2,49.3 183.7,47.8 185.2,45.2 184.1,44.2 185.9,41.6 184.6,40.6 186.7,38.1 185.0,37.0 186.7,34.4 185.4,33.4 186.4,30.6 185.7,29.7 186.3,26.9 185.7,26.0 184.6,26.5 184.2,29.4 182.8,29.8 183.0,32.9 181.3,33.2 181.9,36.3 180.5,36.8 180.9,39.8 179.6,40.3 179.8,43.3 176.4,43.4 178.8,46.8 176.0,47.0 177.8,50.3 176.0,50.7 177.3,53.9 176.2,54.4 177.6,57.7" fill="#dcc834" stroke="#f2e458" stroke-width="0.6" stroke-linejoin="round"/>
<line x1="179.00" y1="58.00" x2="184.36" y2="32.40" stroke="#f0e870" stroke-width="1.8"/>
<polygon points="200.3,37.2 198.1,35.3 198.2,37.2 196.3,36.5 196.3,38.1 194.7,38.5 194.5,39.5 195.2,40.5 196.7,39.9 197.5,41.5 198.8,39.8 199.8,42.0 200.7,38.8" fill="#dcc834" stroke="#f2e458" stroke-width="0.6" stroke-linejoin="round"/>
<line x1="200.50" y1="38.00" x2="195.70" y2="39.20" stroke="#f0e870" stroke-width="1.2000000000000002"/>
<polygon points="200.2,45.1 199.2,42.1 198.4,44.2 197.0,43.6 196.5,44.4 195.1,43.7 194.5,45.0 194.7,46.0 196.2,46.3 196.1,48.5 197.9,47.1 197.9,49.4 199.8,46.9" fill="#dcc834" stroke="#f2e458" stroke-width="0.6" stroke-linejoin="round"/>
<line x1="200.00" y1="46.00" x2="195.60" y2="45.20" stroke="#f0e870" stroke-width="1.2800000000000002"/>
<polygon points="200.9,37.8 202.6,40.1 203.3,38.7 205.1,40.4 205.9,38.5 207.8,39.3 208.5,38.0 208.1,37.0 206.1,36.8 205.8,35.3 203.7,36.0 203.3,34.9 201.1,36.2" fill="#dcc834" stroke="#f2e458" stroke-width="0.6" stroke-linejoin="round"/>
<line x1="201.00" y1="37.00" x2="207.00" y2="37.80" stroke="#f0e870" stroke-width="1.2000000000000002"/>
<polygon points="200.4,46.0 203.6,48.1 204.5,47.1 207.8,48.2 208.7,46.8 212.0,47.5 213.0,46.0 212.3,44.7 208.9,44.6 208.2,43.6 204.8,43.6 204.1,42.1 200.6,44.0" fill="#ccb82a" stroke="#f2e458" stroke-width="0.6" stroke-linejoin="round"/>
<line x1="200.50" y1="45.00" x2="210.50" y2="45.80" stroke="#f0e870" stroke-width="1.52"/>
<polygon points="199.9,53.0 203.2,55.2 204.2,54.1 207.5,56.1 208.6,53.8 212.0,54.8 213.0,53.0 212.2,51.7 208.8,51.6 208.0,50.5 204.5,50.6 203.7,49.3 200.1,51.0" fill="#d6c22e" stroke="#f2e458" stroke-width="0.6" stroke-linejoin="round"/>
<line x1="200.00" y1="52.00" x2="210.40" y2="52.80" stroke="#f0e870" stroke-width="1.52"/>
<polygon points="200.8,58.1 204.0,55.3 202.0,54.5 203.7,51.7 202.3,50.9 204.0,48.1 202.2,47.2 204.5,44.4 202.1,43.6 202.9,40.7 202.0,40.0 203.6,37.1 201.8,36.3 202.9,33.5 201.6,32.7 202.0,29.8 201.0,29.0 200.2,29.7 200.1,32.6 199.4,33.3 199.5,36.2 197.3,36.8 198.9,39.8 197.4,40.4 198.4,43.4 195.6,44.0 197.9,47.0 195.0,47.6 197.5,50.6 194.3,51.2 197.3,54.3 195.4,54.9 198.2,57.9" fill="#dcc834" stroke="#f2e458" stroke-width="0.6" stroke-linejoin="round"/>
<line x1="199.50" y1="58.00" x2="200.70" y2="34.80" stroke="#f0e870" stroke-width="1.8"/>
</g>
<rect x="153.8" y="10.4" width="60.3" height="44" fill="#1c1804" filter="url(#nz)" opacity="0.6"/>
<rect x="153.8" y="10.4" width="60.3" height="44" fill="#fff060" filter="url(#nz2)" opacity="0.18"/>
</g>
<rect x="200.70" y="43.40" width="11.50" height="7.90" fill="#fff"/>
<text class="se" x="206.4" y="49.0" font-size="4.6" text-anchor="middle" fill="#123">Sn</text>
<g clip-path="url(#cC)">
<rect x="153.70" y="58.75" width="60.20" height="43.75" fill="#060e16"/>
<g filter="url(#b2)">
<circle cx="173.6" cy="85.1" r="1.6" fill="#06121c"/>
<circle cx="169.3" cy="66.7" r="2.6" fill="#0c2030"/>
<circle cx="160.8" cy="58.9" r="1.8" fill="#143248"/>
<circle cx="165.1" cy="82.9" r="2.2" fill="#0c2030"/>
<circle cx="204.2" cy="84.5" r="2.1" fill="#143248"/>
<circle cx="210.9" cy="58.6" r="2.4" fill="#06121c"/>
<circle cx="183.2" cy="79.8" r="1.6" fill="#10283a"/>
<circle cx="158.5" cy="85.9" r="3.1" fill="#0c2030"/>
<circle cx="204.6" cy="101.5" r="3.2" fill="#0c2030"/>
<circle cx="177.6" cy="97.3" r="3.0" fill="#10283a"/>
<circle cx="175.7" cy="81.8" r="2.3" fill="#06121c"/>
<circle cx="189.4" cy="60.0" r="1.9" fill="#143248"/>
<circle cx="197.6" cy="72.9" r="2.7" fill="#143248"/>
<circle cx="172.9" cy="73.1" r="2.7" fill="#06121c"/>
<circle cx="155.2" cy="78.7" r="4.0" fill="#10283a"/>
<circle cx="191.9" cy="90.7" r="1.9" fill="#0c2030"/>
<circle cx="170.4" cy="80.5" r="2.2" fill="#06121c"/>
<circle cx="213.5" cy="59.5" r="2.9" fill="#10283a"/>
<circle cx="206.3" cy="92.8" r="3.1" fill="#10283a"/>
<circle cx="175.8" cy="70.7" r="3.5" fill="#06121c"/>
<circle cx="194.9" cy="71.7" r="3.4" fill="#143248"/>
<circle cx="184.5" cy="86.6" r="2.4" fill="#0c2030"/>
<circle cx="174.1" cy="89.7" r="3.2" fill="#0c2030"/>
<circle cx="184.2" cy="98.2" r="3.5" fill="#143248"/>
<circle cx="163.0" cy="67.2" r="3.7" fill="#0c2030"/>
<circle cx="178.3" cy="75.8" r="3.4" fill="#06121c"/>
<circle cx="189.2" cy="64.5" r="3.3" fill="#143248"/>
<circle cx="197.6" cy="82.8" r="3.8" fill="#143248"/>
<circle cx="158.4" cy="66.6" r="3.8" fill="#06121c"/>
<circle cx="172.3" cy="73.9" r="2.7" fill="#0c2030"/>
<ellipse cx="173" cy="64" rx="12" ry="5" fill="#123a4c" opacity="0.8"/>
<ellipse cx="204" cy="63" rx="7" ry="3.5" fill="#123a4c" opacity="0.7"/>
<ellipse cx="180" cy="90" rx="24" ry="12" fill="#0c3044" opacity="0.6"/>
</g>
<g filter="url(#rg)">
<ellipse cx="181" cy="79" rx="8.0" ry="2.8" fill="#1f9ed0" transform="rotate(-40 181 79)"/>
<ellipse cx="181" cy="79" rx="4.2" ry="1.1" fill="#4cc8ee" transform="rotate(-40 181 79)"/>
<ellipse cx="176" cy="84" rx="6.0" ry="2.5" fill="#1f9ed0" transform="rotate(-35 176 84)"/>
<ellipse cx="176" cy="84" rx="3.1" ry="1.1" fill="#4cc8ee" transform="rotate(-35 176 84)"/>
<ellipse cx="169" cy="87.5" rx="5.3" ry="2.4" fill="#1f9ed0" transform="rotate(-20 169 87.5)"/>
<ellipse cx="169" cy="87.5" rx="2.8" ry="1.0" fill="#4cc8ee" transform="rotate(-20 169 87.5)"/>
<ellipse cx="181" cy="88.5" rx="5.3" ry="2.4" fill="#1f9ed0" transform="rotate(-25 181 88.5)"/>
<ellipse cx="181" cy="88.5" rx="2.8" ry="1.0" fill="#4cc8ee" transform="rotate(-25 181 88.5)"/>
<ellipse cx="162" cy="93.5" rx="4.6" ry="2.6" fill="#1f9ed0" transform="rotate(20 162 93.5)"/>
<ellipse cx="162" cy="93.5" rx="2.4" ry="1.1" fill="#4cc8ee" transform="rotate(20 162 93.5)"/>
<ellipse cx="175" cy="95" rx="6.0" ry="2.9" fill="#1f9ed0" transform="rotate(-50 175 95)"/>
<ellipse cx="175" cy="95" rx="3.1" ry="1.2" fill="#4cc8ee" transform="rotate(-50 175 95)"/>
<ellipse cx="174" cy="100.5" rx="5.8" ry="2.4" fill="#1f9ed0" transform="rotate(-10 174 100.5)"/>
<ellipse cx="174" cy="100.5" rx="3.0" ry="1.0" fill="#4cc8ee" transform="rotate(-10 174 100.5)"/>
<ellipse cx="166" cy="99" rx="4.1" ry="2.2" fill="#1f9ed0" transform="rotate(30 166 99)"/>
<ellipse cx="166" cy="99" rx="2.2" ry="0.9" fill="#4cc8ee" transform="rotate(30 166 99)"/>
<ellipse cx="186" cy="93" rx="3.4" ry="1.8" fill="#1f9ed0" transform="rotate(-60 186 93)"/>
<ellipse cx="186" cy="93" rx="1.8" ry="0.8" fill="#4cc8ee" transform="rotate(-60 186 93)"/>
<ellipse cx="158" cy="98" rx="3.0" ry="1.7" fill="#1f9ed0" transform="rotate(-20 158 98)"/>
<ellipse cx="158" cy="98" rx="1.6" ry="0.7" fill="#4cc8ee" transform="rotate(-20 158 98)"/>
<ellipse cx="199" cy="80.5" rx="5.3" ry="2.3" fill="#1f9ed0" transform="rotate(-70 199 80.5)"/>
<ellipse cx="199" cy="80.5" rx="2.8" ry="0.9" fill="#4cc8ee" transform="rotate(-70 199 80.5)"/>
<ellipse cx="197" cy="87" rx="5.3" ry="2.4" fill="#1f9ed0" transform="rotate(-60 197 87)"/>
<ellipse cx="197" cy="87" rx="2.8" ry="1.0" fill="#4cc8ee" transform="rotate(-60 197 87)"/>
<ellipse cx="194" cy="93.5" rx="4.8" ry="2.4" fill="#1f9ed0" transform="rotate(-50 194 93.5)"/>
<ellipse cx="194" cy="93.5" rx="2.5" ry="1.0" fill="#4cc8ee" transform="rotate(-50 194 93.5)"/>
<ellipse cx="200" cy="96" rx="3.4" ry="1.9" fill="#1f9ed0" transform="rotate(-30 200 96)"/>
<ellipse cx="200" cy="96" rx="1.8" ry="0.8" fill="#4cc8ee" transform="rotate(-30 200 96)"/>
<ellipse cx="191" cy="99.5" rx="4.6" ry="2.2" fill="#1f9ed0" transform="rotate(-20 191 99.5)"/>
<ellipse cx="191" cy="99.5" rx="2.4" ry="0.9" fill="#4cc8ee" transform="rotate(-20 191 99.5)"/>
<ellipse cx="206" cy="88" rx="2.3" ry="1.4" fill="#1f9ed0" transform="rotate(0 206 88)"/>
<ellipse cx="206" cy="88" rx="1.2" ry="0.6" fill="#4cc8ee" transform="rotate(0 206 88)"/>
<ellipse cx="203" cy="100" rx="3.0" ry="1.7" fill="#1f9ed0" transform="rotate(-30 203 100)"/>
<ellipse cx="203" cy="100" rx="1.6" ry="0.7" fill="#4cc8ee" transform="rotate(-30 203 100)"/>
<ellipse cx="186" cy="100" rx="3.0" ry="1.7" fill="#1f9ed0" transform="rotate(10 186 100)"/>
<ellipse cx="186" cy="100" rx="1.6" ry="0.7" fill="#4cc8ee" transform="rotate(10 186 100)"/>
</g>
<rect x="153.7" y="58.75" width="60.2" height="43.75" fill="#02080c" filter="url(#nz)" opacity="0.6"/>
</g>
<rect x="201.00" y="91.20" width="12.20" height="8.70" fill="#fff"/>
<text class="se" x="207.1" y="97.2" font-size="4.6" text-anchor="middle" fill="#412">Cu</text>
<g clip-path="url(#cB)">
<path d="M236.70,38.60 C238.83,38.37 245.13,37.62 249.50,37.20 C253.87,36.78 258.42,36.40 262.90,36.10 C267.38,35.80 271.92,35.62 276.40,35.40 C280.88,35.18 284.87,34.97 289.80,34.80 C294.73,34.63 300.13,34.50 306.00,34.40 C311.87,34.30 318.50,34.25 325.00,34.20 C331.50,34.15 339.22,34.12 345.00,34.10 C350.78,34.08 357.25,34.10 359.70,34.10" fill="none" stroke="#e23a44" stroke-width="1.1"/>
<path d="M236.95,74.01 C237.38,73.58 238.63,72.25 239.48,71.39 C240.34,70.53 241.20,69.67 242.08,68.84 C242.95,68.00 243.84,67.17 244.73,66.36 C245.63,65.54 246.53,64.74 247.45,63.95 C248.36,63.17 249.28,62.39 250.22,61.63 C251.15,60.87 252.09,60.12 253.05,59.39 C254.00,58.66 254.96,57.94 255.93,57.23 C256.90,56.52 257.88,55.83 258.86,55.16 C259.85,54.48 260.85,53.82 261.85,53.17 C262.86,52.52 263.87,51.89 264.89,51.28 C265.91,50.66 266.94,50.06 267.98,49.47 C269.01,48.89 270.06,48.32 271.11,47.76 C272.16,47.21 273.22,46.67 274.29,46.15 C275.36,45.63 276.43,45.13 277.51,44.64 C278.60,44.15 279.69,43.68 280.78,43.23 C281.88,42.77 282.98,42.34 284.09,41.92 C285.20,41.50 286.32,41.10 287.44,40.71 C288.56,40.33 289.69,39.97 290.82,39.62 C291.96,39.27 293.10,38.94 294.25,38.63 C295.39,38.32 296.55,38.03 297.70,37.76 C298.86,37.49 300.03,37.23 301.20,37.00 C302.37,36.77 303.54,36.55 304.72,36.36 C305.90,36.16 307.09,35.99 308.28,35.84 C309.47,35.68 310.66,35.55 311.86,35.43 C313.06,35.32 314.26,35.23 315.47,35.15 C316.68,35.08 317.89,35.03 319.11,35.00 C320.33,34.97 321.55,34.98 322.77,34.97 C324.00,34.97 325.23,34.97 326.46,34.97 C327.69,34.97 327.08,35.05 330.17,34.97 C333.26,34.90 340.08,34.60 345.00,34.50 C349.92,34.40 357.25,34.42 359.70,34.40" fill="none" stroke="#3c3c3c" stroke-width="1.1"/>
</g>
<rect x="236.70" y="10.20" width="123.00" height="98.00" fill="none" stroke="#2a2a2a" stroke-width="0.9"/>
<line x1="236.70" y1="14.80" x2="239.30" y2="14.80" stroke="#2a2a2a" stroke-width="0.8"/>
<text class="se" x="235.1" y="16.9" font-size="6.1" text-anchor="end">8</text>
<line x1="236.70" y1="34.40" x2="239.30" y2="34.40" stroke="#2a2a2a" stroke-width="0.8"/>
<text class="se" x="235.1" y="36.5" font-size="6.1" text-anchor="end">0</text>
<line x1="236.70" y1="54.00" x2="239.30" y2="54.00" stroke="#2a2a2a" stroke-width="0.8"/>
<text class="se" x="235.1" y="56.1" font-size="6.1" text-anchor="end">-8</text>
<line x1="236.70" y1="73.60" x2="239.30" y2="73.60" stroke="#2a2a2a" stroke-width="0.8"/>
<text class="se" x="235.1" y="75.69999999999999" font-size="6.1" text-anchor="end">-16</text>
<line x1="236.70" y1="93.20" x2="239.30" y2="93.20" stroke="#2a2a2a" stroke-width="0.8"/>
<text class="se" x="235.1" y="95.3" font-size="6.1" text-anchor="end">-24</text>
<line x1="236.70" y1="24.60" x2="238.20" y2="24.60" stroke="#2a2a2a" stroke-width="0.7"/>
<line x1="236.70" y1="44.20" x2="238.20" y2="44.20" stroke="#2a2a2a" stroke-width="0.7"/>
<line x1="236.70" y1="63.80" x2="238.20" y2="63.80" stroke="#2a2a2a" stroke-width="0.7"/>
<line x1="236.70" y1="83.40" x2="238.20" y2="83.40" stroke="#2a2a2a" stroke-width="0.7"/>
<line x1="236.70" y1="103.00" x2="238.20" y2="103.00" stroke="#2a2a2a" stroke-width="0.7"/>
<line x1="236.50" y1="108.20" x2="236.50" y2="105.80" stroke="#2a2a2a" stroke-width="0.8"/>
<text class="se" x="236.8" y="115.1" font-size="6.1" text-anchor="middle">-0.80</text>
<line x1="247.60" y1="108.20" x2="247.60" y2="106.80" stroke="#2a2a2a" stroke-width="0.7"/>
<line x1="258.70" y1="108.20" x2="258.70" y2="105.80" stroke="#2a2a2a" stroke-width="0.8"/>
<text class="se" x="259.00000000000006" y="115.1" font-size="6.1" text-anchor="middle">-0.75</text>
<line x1="269.80" y1="108.20" x2="269.80" y2="106.80" stroke="#2a2a2a" stroke-width="0.7"/>
<line x1="280.90" y1="108.20" x2="280.90" y2="105.80" stroke="#2a2a2a" stroke-width="0.8"/>
<text class="se" x="281.20000000000005" y="115.1" font-size="6.1" text-anchor="middle">-0.70</text>
<line x1="292.00" y1="108.20" x2="292.00" y2="106.80" stroke="#2a2a2a" stroke-width="0.7"/>
<line x1="303.10" y1="108.20" x2="303.10" y2="105.80" stroke="#2a2a2a" stroke-width="0.8"/>
<text class="se" x="303.40000000000003" y="115.1" font-size="6.1" text-anchor="middle">-0.65</text>
<line x1="314.20" y1="108.20" x2="314.20" y2="106.80" stroke="#2a2a2a" stroke-width="0.7"/>
<line x1="325.30" y1="108.20" x2="325.30" y2="105.80" stroke="#2a2a2a" stroke-width="0.8"/>
<text class="se" x="325.6" y="115.1" font-size="6.1" text-anchor="middle">-0.60</text>
<line x1="336.40" y1="108.20" x2="336.40" y2="106.80" stroke="#2a2a2a" stroke-width="0.7"/>
<line x1="347.50" y1="108.20" x2="347.50" y2="105.80" stroke="#2a2a2a" stroke-width="0.8"/>
<text class="se" x="347.8" y="115.1" font-size="6.1" text-anchor="middle">-0.55</text>
<line x1="358.60" y1="108.20" x2="358.60" y2="106.80" stroke="#2a2a2a" stroke-width="0.7"/>
<text class="se" x="296.9" y="123.9" font-size="8.35" text-anchor="middle">Potential (V vs. Ag/AgCl)</text>
<text class="se" x="226.0" y="64.5" font-size="8.35" text-anchor="middle" transform="rotate(-90 226.0 64.5)">Current density (mA cm<tspan font-size="5.3" dy="-2.8">-2</tspan><tspan dy="2.8">)</tspan></text>
<line x1="240.20" y1="18.10" x2="251.60" y2="18.10" stroke="#e23a44" stroke-width="1.2"/>
<text class="se" x="254" y="20.2" font-size="6.3">CuSn/CuF@Cu</text>
<line x1="240.20" y1="26.20" x2="251.60" y2="26.20" stroke="#3c3c3c" stroke-width="1.2"/>
<text class="se" x="254" y="28.3" font-size="6.3">Cu sheet</text>
<rect x="285.50" y="48.40" width="63.60" height="50.00" fill="#fff" stroke="#2a2a2a" stroke-width="0.8"/>
<line x1="300.20" y1="60.40" x2="312.30" y2="89.90" stroke="#e23a44" stroke-width="1.1" stroke-dasharray="1.3 2.4"/>
<line x1="322.20" y1="89.90" x2="334.40" y2="56.40" stroke="#e23a44" stroke-width="1.1" stroke-dasharray="1.3 2.4"/>
<line x1="299.60" y1="60.20" x2="311.60" y2="85.60" stroke="#4a4048" stroke-width="1.25" stroke-dasharray="1.3 2.4"/>
<line x1="322.60" y1="85.60" x2="334.80" y2="56.40" stroke="#4a4048" stroke-width="1.25" stroke-dasharray="1.3 2.4"/>
<line x1="289.80" y1="59.90" x2="299.50" y2="59.90" stroke="#e23a44" stroke-width="1.0"/>
<line x1="334.60" y1="56.20" x2="345.20" y2="56.20" stroke="#e23a44" stroke-width="1.0"/>
<line x1="312.10" y1="89.90" x2="322.50" y2="89.90" stroke="#e23a44" stroke-width="1.0"/>
<line x1="311.50" y1="85.40" x2="322.50" y2="85.40" stroke="#2a2a2a" stroke-width="1.0"/>
<text class="se" x="295" y="58.5" font-size="3.4" text-anchor="middle">H<tspan font-size="2.2" dy="-1.1">+</tspan></text>
<text class="se" x="340" y="54.7" font-size="3.4" text-anchor="middle">1/2 H<tspan font-size="2.2" dy="0.6">2</tspan></text>
<text class="se" x="317.3" y="83.8" font-size="3.4" text-anchor="middle" fill="#1a4a48">H*</text>
<line x1="329.00" y1="88.70" x2="335.20" y2="88.70" stroke="#e23a44" stroke-width="0.9"/>
<text class="se" x="336.1" y="89.9" font-size="3.6">CuSn</text>
<line x1="329.00" y1="93.70" x2="335.20" y2="93.70" stroke="#2a2a2a" stroke-width="0.9"/>
<text class="se" x="336.1" y="94.9" font-size="3.6">Cu</text>
<text class="se" x="283.9" y="49.6" font-size="3.0" text-anchor="end">0.25</text>
<line x1="285.50" y1="48.60" x2="286.70" y2="48.60" stroke="#2a2a2a" stroke-width="0.5"/>
<text class="se" x="283.9" y="60.9" font-size="3.0" text-anchor="end">0.00</text>
<line x1="285.50" y1="59.90" x2="286.70" y2="59.90" stroke="#2a2a2a" stroke-width="0.5"/>
<text class="se" x="283.9" y="71.4" font-size="3.0" text-anchor="end">-0.25</text>
<line x1="285.50" y1="70.40" x2="286.70" y2="70.40" stroke="#2a2a2a" stroke-width="0.5"/>
<text class="se" x="283.9" y="83.2" font-size="3.0" text-anchor="end">-0.50</text>
<line x1="285.50" y1="82.20" x2="286.70" y2="82.20" stroke="#2a2a2a" stroke-width="0.5"/>
<text class="se" x="283.9" y="94.8" font-size="3.0" text-anchor="end">-0.75</text>
<line x1="285.50" y1="93.80" x2="286.70" y2="93.80" stroke="#2a2a2a" stroke-width="0.5"/>
<text class="se" x="276.2" y="73" font-size="3.6" text-anchor="middle" transform="rotate(-90 276.2 73)">Energy (eV)</text>
<text class="se" x="317.4" y="104.5" font-size="4.9" text-anchor="middle">Reaction Coordinate</text>
<g clip-path="url(#cCc)">
<path d="M384.00,30.91 C384.61,30.82 386.44,30.55 387.66,30.38 C388.88,30.20 390.10,30.04 391.32,29.89 C392.55,29.73 393.77,29.58 394.99,29.44 C396.22,29.30 397.44,29.16 398.66,29.03 C399.89,28.91 401.11,28.78 402.34,28.67 C403.57,28.55 404.79,28.44 406.02,28.34 C407.25,28.24 408.47,28.14 409.70,28.04 C410.93,27.95 412.16,27.87 413.38,27.78 C414.61,27.70 415.84,27.62 417.07,27.55 C418.30,27.48 419.53,27.41 420.76,27.35 C421.99,27.28 423.22,27.22 424.45,27.17 C425.68,27.11 426.91,27.06 428.14,27.01 C429.37,26.96 430.61,26.92 431.84,26.88 C433.07,26.84 434.30,26.80 435.53,26.76 C436.76,26.73 437.99,26.70 439.22,26.67 C440.46,26.64 441.69,26.61 442.92,26.58 C444.15,26.56 445.38,26.54 446.61,26.51 C447.84,26.49 449.08,26.47 450.31,26.45 C451.54,26.43 449.05,26.46 454.00,26.40 C458.95,26.34 473.17,26.17 480.00,26.10 C486.83,26.03 489.73,26.02 495.00,26.00 C500.27,25.98 508.83,25.96 511.60,25.95" fill="none" stroke="#3c3c3c" stroke-width="1.1"/>
<path d="M384.02,48.66 C384.45,48.43 385.73,47.73 386.60,47.27 C387.46,46.81 388.32,46.36 389.19,45.92 C390.06,45.47 390.93,45.03 391.81,44.60 C392.68,44.17 393.56,43.75 394.44,43.33 C395.32,42.91 396.21,42.50 397.10,42.10 C397.99,41.70 398.88,41.30 399.77,40.91 C400.67,40.53 401.56,40.14 402.46,39.77 C403.36,39.40 404.27,39.03 405.17,38.67 C406.08,38.31 406.99,37.96 407.90,37.61 C408.81,37.27 409.72,36.93 410.64,36.60 C411.55,36.27 412.47,35.95 413.40,35.64 C414.32,35.32 415.24,35.02 416.17,34.72 C417.09,34.42 418.02,34.13 418.96,33.84 C419.89,33.56 420.82,33.29 421.76,33.02 C422.69,32.75 423.63,32.49 424.57,32.24 C425.51,31.99 426.45,31.75 427.40,31.52 C428.34,31.28 429.29,31.05 430.23,30.84 C431.18,30.62 432.13,30.41 433.08,30.21 C434.04,30.01 434.99,29.82 435.95,29.63 C436.90,29.45 437.86,29.27 438.82,29.11 C439.78,28.94 440.74,28.78 441.70,28.63 C442.66,28.48 443.62,28.34 444.59,28.21 C445.55,28.08 446.52,27.96 447.49,27.85 C448.45,27.73 449.42,27.63 450.39,27.53 C451.36,27.44 452.33,27.35 453.31,27.27 C454.28,27.20 455.25,27.13 456.23,27.07 C457.20,27.01 458.18,26.96 459.15,26.92 C460.13,26.88 461.11,26.85 462.08,26.83 C463.06,26.81 462.04,26.89 465.02,26.80 C468.01,26.71 475.00,26.42 480.00,26.30 C485.00,26.18 489.73,26.15 495.00,26.10 C500.27,26.05 508.83,26.02 511.60,26.00" fill="none" stroke="#e23a44" stroke-width="1.1"/>
<path d="M384.34,72.55 C384.72,72.31 385.85,71.63 386.59,71.14 C387.34,70.66 388.08,70.16 388.81,69.65 C389.54,69.14 390.26,68.62 390.98,68.08 C391.70,67.55 392.42,67.00 393.13,66.44 C393.84,65.89 394.54,65.32 395.25,64.74 C395.95,64.17 396.64,63.58 397.34,62.99 C398.03,62.40 398.72,61.79 399.41,61.19 C400.10,60.58 400.78,59.97 401.47,59.35 C402.15,58.74 402.83,58.11 403.51,57.49 C404.19,56.87 404.87,56.24 405.55,55.61 C406.22,54.98 406.90,54.35 407.58,53.72 C408.25,53.08 408.93,52.45 409.61,51.82 C410.29,51.19 410.96,50.56 411.64,49.93 C412.32,49.30 413.00,48.68 413.69,48.06 C414.37,47.44 415.05,46.82 415.74,46.21 C416.43,45.59 417.12,44.99 417.81,44.39 C418.51,43.79 419.20,43.19 419.90,42.61 C420.60,42.02 421.31,41.44 422.02,40.88 C422.73,40.31 423.44,39.75 424.16,39.20 C424.88,38.66 425.60,38.12 426.33,37.59 C427.06,37.07 427.80,36.56 428.54,36.06 C429.29,35.56 430.03,35.08 430.79,34.61 C431.55,34.14 432.31,33.69 433.08,33.25 C433.86,32.81 434.64,32.39 435.43,31.99 C436.21,31.59 437.01,31.20 437.82,30.83 C438.63,30.47 439.44,30.12 440.27,29.80 C441.09,29.47 441.93,29.17 442.78,28.89 C443.62,28.61 444.48,28.34 445.35,28.11 C446.22,27.87 447.10,27.66 447.99,27.47 C448.88,27.29 449.78,27.12 450.70,26.99 C451.62,26.85 452.55,26.74 453.49,26.66 C454.43,26.58 455.39,26.53 456.36,26.50 C457.33,26.47 458.31,26.50 459.31,26.50 C460.31,26.50 461.32,26.50 462.35,26.50 C463.38,26.50 462.54,26.55 465.48,26.50 C468.42,26.45 475.08,26.28 480.00,26.20 C484.92,26.12 489.73,26.08 495.00,26.05 C500.27,26.02 508.83,26.01 511.60,26.00" fill="none" stroke="#2456a8" stroke-width="1.1"/>
<path d="M384.27,98.03 C384.67,97.72 385.88,96.80 386.67,96.16 C387.45,95.51 388.22,94.84 388.98,94.15 C389.74,93.47 390.49,92.76 391.22,92.03 C391.95,91.30 392.67,90.56 393.38,89.80 C394.10,89.04 394.79,88.26 395.49,87.47 C396.18,86.68 396.86,85.87 397.53,85.05 C398.20,84.23 398.87,83.40 399.53,82.56 C400.18,81.72 400.84,80.86 401.48,80.00 C402.13,79.14 402.77,78.27 403.40,77.39 C404.04,76.51 404.67,75.63 405.29,74.74 C405.92,73.85 406.54,72.95 407.17,72.05 C407.79,71.15 408.41,70.25 409.03,69.34 C409.65,68.44 410.26,67.53 410.88,66.63 C411.50,65.72 412.12,64.81 412.74,63.91 C413.36,63.01 413.98,62.10 414.61,61.21 C415.24,60.31 415.86,59.41 416.50,58.52 C417.13,57.64 417.76,56.75 418.41,55.87 C419.05,55.00 419.69,54.13 420.35,53.27 C421.00,52.41 421.66,51.56 422.33,50.72 C423.00,49.88 423.67,49.05 424.36,48.24 C425.04,47.43 425.73,46.62 426.44,45.84 C427.14,45.05 427.86,44.27 428.58,43.52 C429.31,42.76 430.04,42.02 430.79,41.30 C431.54,40.58 432.30,39.88 433.08,39.20 C433.86,38.51 434.65,37.85 435.45,37.21 C436.26,36.57 437.08,35.95 437.92,35.36 C438.75,34.76 439.60,34.19 440.48,33.65 C441.35,33.10 442.23,32.58 443.14,32.09 C444.05,31.60 444.98,31.13 445.92,30.70 C446.87,30.26 447.83,29.86 448.82,29.48 C449.81,29.11 450.82,28.76 451.85,28.45 C452.88,28.14 453.93,27.87 455.01,27.62 C456.09,27.38 457.19,27.17 458.32,27.00 C459.44,26.83 460.59,26.69 461.77,26.60 C462.95,26.50 462.34,26.49 465.38,26.43 C468.42,26.36 475.06,26.26 480.00,26.20 C484.94,26.14 489.73,26.08 495.00,26.05 C500.27,26.02 508.83,26.01 511.60,26.00" fill="none" stroke="#238c6c" stroke-width="1.1"/>
</g>
<rect x="384.00" y="11.60" width="127.60" height="102.00" fill="none" stroke="#2a2a2a" stroke-width="0.9"/>
<line x1="384.00" y1="25.10" x2="386.40" y2="25.10" stroke="#2a2a2a" stroke-width="0.8"/>
<text class="se" x="381.8" y="27.200000000000003" font-size="6.1" text-anchor="end">0</text>
<line x1="384.00" y1="52.38" x2="386.40" y2="52.38" stroke="#2a2a2a" stroke-width="0.8"/>
<text class="se" x="381.8" y="54.480000000000004" font-size="6.1" text-anchor="end">-8</text>
<line x1="384.00" y1="79.66" x2="386.40" y2="79.66" stroke="#2a2a2a" stroke-width="0.8"/>
<text class="se" x="381.8" y="81.75999999999999" font-size="6.1" text-anchor="end">-16</text>
<line x1="384.00" y1="106.94" x2="386.40" y2="106.94" stroke="#2a2a2a" stroke-width="0.8"/>
<text class="se" x="381.8" y="109.03999999999999" font-size="6.1" text-anchor="end">-24</text>
<line x1="384.00" y1="38.74" x2="385.40" y2="38.74" stroke="#2a2a2a" stroke-width="0.7"/>
<line x1="384.00" y1="66.02" x2="385.40" y2="66.02" stroke="#2a2a2a" stroke-width="0.7"/>
<line x1="384.00" y1="93.30" x2="385.40" y2="93.30" stroke="#2a2a2a" stroke-width="0.7"/>
<line x1="384.10" y1="113.60" x2="384.10" y2="111.40" stroke="#2a2a2a" stroke-width="0.8"/>
<text class="se" x="384.70000000000005" y="120.5" font-size="6.1" text-anchor="middle">-0.80</text>
<line x1="396.85" y1="113.60" x2="396.85" y2="112.30" stroke="#2a2a2a" stroke-width="0.7"/>
<line x1="409.60" y1="113.60" x2="409.60" y2="111.40" stroke="#2a2a2a" stroke-width="0.8"/>
<text class="se" x="410.20000000000005" y="120.5" font-size="6.1" text-anchor="middle">-0.75</text>
<line x1="422.35" y1="113.60" x2="422.35" y2="112.30" stroke="#2a2a2a" stroke-width="0.7"/>
<line x1="435.10" y1="113.60" x2="435.10" y2="111.40" stroke="#2a2a2a" stroke-width="0.8"/>
<text class="se" x="435.7000000000001" y="120.5" font-size="6.1" text-anchor="middle">-0.70</text>
<line x1="447.85" y1="113.60" x2="447.85" y2="112.30" stroke="#2a2a2a" stroke-width="0.7"/>
<line x1="460.60" y1="113.60" x2="460.60" y2="111.40" stroke="#2a2a2a" stroke-width="0.8"/>
<text class="se" x="461.20000000000005" y="120.5" font-size="6.1" text-anchor="middle">-0.65</text>
<line x1="473.35" y1="113.60" x2="473.35" y2="112.30" stroke="#2a2a2a" stroke-width="0.7"/>
<line x1="486.10" y1="113.60" x2="486.10" y2="111.40" stroke="#2a2a2a" stroke-width="0.8"/>
<text class="se" x="486.70000000000005" y="120.5" font-size="6.1" text-anchor="middle">-0.60</text>
<line x1="498.85" y1="113.60" x2="498.85" y2="112.30" stroke="#2a2a2a" stroke-width="0.7"/>
<line x1="511.60" y1="113.60" x2="511.60" y2="111.40" stroke="#2a2a2a" stroke-width="0.8"/>
<text class="se" x="512.2" y="120.5" font-size="6.1" text-anchor="middle">-0.55</text>
<text class="se" x="445.7" y="128.9" font-size="8.67" text-anchor="middle">Potential (V vs. Ag/AgCl)</text>
<text class="se" x="370.3" y="69.9" font-size="8.9" text-anchor="middle" transform="rotate(-90 370.3 69.9)">Current density (mA cm<tspan font-size="5.5" dy="-2.9">-2</tspan><tspan dy="2.9">)</tspan></text>
<line x1="434.50" y1="69.80" x2="444.60" y2="69.80" stroke="#3c3c3c" stroke-width="1.2"/>
<text class="se" x="446.6" y="71.89999999999999" font-size="6.3">blank electrolyte</text>
<line x1="434.50" y1="78.25" x2="444.60" y2="78.25" stroke="#e23a44" stroke-width="1.2"/>
<text class="se" x="446.6" y="80.35" font-size="6.3">10 mM FF</text>
<line x1="434.50" y1="86.70" x2="444.60" y2="86.70" stroke="#2456a8" stroke-width="1.2"/>
<text class="se" x="446.6" y="88.79999999999998" font-size="6.3">50 mM FF</text>
<line x1="434.50" y1="95.15" x2="444.60" y2="95.15" stroke="#238c6c" stroke-width="1.2"/>
<text class="se" x="446.6" y="97.24999999999999" font-size="6.3">100 mM FF</text>
<rect x="39.70" y="173.53" width="14.20" height="84.62" fill="url(#gBar)"/>
<rect x="69.20" y="173.11" width="14.80" height="12.72" fill="#f98a1a"/>
<rect x="69.20" y="185.53" width="14.80" height="72.62" fill="url(#gBar)"/>
<rect x="99.30" y="169.95" width="14.50" height="29.14" fill="#f98a1a"/>
<rect x="99.30" y="198.79" width="14.50" height="59.36" fill="url(#gBar)"/>
<rect x="128.30" y="166.90" width="15.30" height="48.40" fill="#f98a1a"/>
<rect x="128.30" y="215.00" width="15.30" height="43.15" fill="url(#gBar)"/>
<path d="M46.80,197.08 C49.25,197.84 56.53,200.06 61.50,201.64 C66.47,203.22 71.68,204.33 76.60,206.55 C81.52,208.78 86.07,212.40 91.00,214.98 C95.93,217.55 101.20,220.30 106.20,222.00 C111.20,223.69 116.07,224.30 121.00,225.16 C125.93,226.01 133.33,226.79 135.80,227.12" fill="none" stroke="#d81c30" stroke-width="0.9"/>
<circle cx="46.8" cy="197.1" r="1.7" fill="#d81c30"/>
<circle cx="76.6" cy="206.6" r="1.7" fill="#d81c30"/>
<circle cx="106.2" cy="222.0" r="1.7" fill="#d81c30"/>
<circle cx="135.8" cy="227.1" r="1.7" fill="#d81c30"/>
<line x1="24.00" y1="153.00" x2="158.60" y2="153.00" stroke="#2a2a2a" stroke-width="1.0"/>
<line x1="24.00" y1="152.50" x2="24.00" y2="258.65" stroke="#2a2a2a" stroke-width="0.9"/>
<line x1="24.00" y1="258.15" x2="158.60" y2="258.15" stroke="#2a2a2a" stroke-width="1.0"/>
<line x1="158.60" y1="153.00" x2="158.60" y2="258.15" stroke="#d81c30" stroke-width="0.7"/>
<line x1="24.00" y1="258.15" x2="26.20" y2="258.15" stroke="#2a2a2a" stroke-width="0.7"/>
<text class="se" x="22.8" y="260.04999999999995" font-size="5.5" text-anchor="end">0</text>
<line x1="24.00" y1="237.10" x2="26.20" y2="237.10" stroke="#2a2a2a" stroke-width="0.7"/>
<text class="se" x="22.8" y="238.99999999999997" font-size="5.5" text-anchor="end">10</text>
<line x1="24.00" y1="216.05" x2="26.20" y2="216.05" stroke="#2a2a2a" stroke-width="0.7"/>
<text class="se" x="22.8" y="217.95" font-size="5.5" text-anchor="end">20</text>
<line x1="24.00" y1="195.00" x2="26.20" y2="195.00" stroke="#2a2a2a" stroke-width="0.7"/>
<text class="se" x="22.8" y="196.89999999999998" font-size="5.5" text-anchor="end">30</text>
<line x1="24.00" y1="173.95" x2="26.20" y2="173.95" stroke="#2a2a2a" stroke-width="0.7"/>
<text class="se" x="22.8" y="175.85" font-size="5.5" text-anchor="end">40</text>
<line x1="24.00" y1="152.90" x2="26.20" y2="152.90" stroke="#2a2a2a" stroke-width="0.7"/>
<text class="se" x="22.8" y="154.79999999999998" font-size="5.5" text-anchor="end">50</text>
<line x1="24.00" y1="247.62" x2="25.30" y2="247.62" stroke="#2a2a2a" stroke-width="0.6"/>
<line x1="24.00" y1="226.57" x2="25.30" y2="226.57" stroke="#2a2a2a" stroke-width="0.6"/>
<line x1="24.00" y1="205.52" x2="25.30" y2="205.52" stroke="#2a2a2a" stroke-width="0.6"/>
<line x1="24.00" y1="184.47" x2="25.30" y2="184.47" stroke="#2a2a2a" stroke-width="0.6"/>
<line x1="24.00" y1="163.42" x2="25.30" y2="163.42" stroke="#2a2a2a" stroke-width="0.6"/>
<line x1="156.40" y1="258.15" x2="158.60" y2="258.15" stroke="#d81c30" stroke-width="0.7"/>
<text class="se" x="160.79999999999998" y="260.04999999999995" font-size="5.5" fill="#d81c30">0</text>
<line x1="156.40" y1="230.07" x2="158.60" y2="230.07" stroke="#d81c30" stroke-width="0.7"/>
<text class="se" x="160.79999999999998" y="231.97" font-size="5.5" fill="#d81c30">4</text>
<line x1="156.40" y1="201.99" x2="158.60" y2="201.99" stroke="#d81c30" stroke-width="0.7"/>
<text class="se" x="160.79999999999998" y="203.89" font-size="5.5" fill="#d81c30">8</text>
<line x1="156.40" y1="173.91" x2="158.60" y2="173.91" stroke="#d81c30" stroke-width="0.7"/>
<text class="se" x="160.79999999999998" y="175.80999999999997" font-size="5.5" fill="#d81c30">12</text>
<line x1="157.30" y1="244.11" x2="158.60" y2="244.11" stroke="#d81c30" stroke-width="0.6"/>
<line x1="157.30" y1="216.03" x2="158.60" y2="216.03" stroke="#d81c30" stroke-width="0.6"/>
<line x1="157.30" y1="187.95" x2="158.60" y2="187.95" stroke="#d81c30" stroke-width="0.6"/>
<line x1="157.30" y1="159.87" x2="158.60" y2="159.87" stroke="#d81c30" stroke-width="0.6"/>
<line x1="46.60" y1="258.15" x2="46.60" y2="256.15" stroke="#2a2a2a" stroke-width="0.7"/>
<text class="se" x="46.6" y="264.4" font-size="5.5" text-anchor="middle">0</text>
<line x1="76.50" y1="258.15" x2="76.50" y2="256.15" stroke="#2a2a2a" stroke-width="0.7"/>
<text class="se" x="76.5" y="264.4" font-size="5.5" text-anchor="middle">1</text>
<line x1="106.40" y1="258.15" x2="106.40" y2="256.15" stroke="#2a2a2a" stroke-width="0.7"/>
<text class="se" x="106.4" y="264.4" font-size="5.5" text-anchor="middle">2</text>
<line x1="136.30" y1="258.15" x2="136.30" y2="256.15" stroke="#2a2a2a" stroke-width="0.7"/>
<text class="se" x="136.3" y="264.4" font-size="5.5" text-anchor="middle">3</text>
<text class="se" x="91.3" y="271.9" font-size="7.5" text-anchor="middle">Electrolyte pH</text>
<text class="se" x="13.3" y="205.3" font-size="8.0" text-anchor="middle" transform="rotate(-90 13.3 205.3)">Faradaic efficiency (%)</text>
<text class="se" x="175.6" y="206.2" font-size="8.35" text-anchor="middle" fill="#d81c30" transform="rotate(-90 175.6 206.2)"><tspan font-style="italic">j</tspan><tspan font-size="4.8" dy="1.2">avg</tspan><tspan dy="-1.2"> (mA cm</tspan><tspan font-size="5" dy="-2.6">-2</tspan><tspan dy="2.6">)</tspan></text>
<rect x="37.00" y="156.80" width="9.80" height="4.30" fill="#101ca8"/>
<text class="se" x="51.8" y="160.9" font-size="5.5">MF</text>
<rect x="65.70" y="156.80" width="9.60" height="4.30" fill="#f98a1a"/>
<text class="se" x="79.2" y="160.9" font-size="5.5">FAL</text>
<g clip-path="url(#cE)">
<line x1="209.30" y1="152.60" x2="209.30" y2="157.87" stroke="#5c3a60" stroke-width="1.15"/>
<line x1="212.40" y1="152.60" x2="212.40" y2="157.40" stroke="#5c3a60" stroke-width="1.15"/>
<line x1="215.50" y1="152.60" x2="215.50" y2="156.94" stroke="#5c3a60" stroke-width="1.15"/>
<line x1="218.60" y1="152.60" x2="218.60" y2="156.48" stroke="#5c3a60" stroke-width="1.15"/>
<line x1="221.70" y1="152.60" x2="221.70" y2="156.03" stroke="#5c3a60" stroke-width="1.15"/>
<line x1="224.80" y1="152.60" x2="224.80" y2="155.59" stroke="#5c3a60" stroke-width="1.15"/>
<line x1="227.90" y1="152.60" x2="227.90" y2="155.16" stroke="#5c3a60" stroke-width="1.15"/>
<line x1="231.00" y1="152.60" x2="231.00" y2="154.74" stroke="#5c3a60" stroke-width="1.15"/>
<line x1="234.10" y1="152.60" x2="234.10" y2="154.33" stroke="#5c3a60" stroke-width="1.15"/>
<line x1="237.20" y1="152.60" x2="237.20" y2="153.94" stroke="#5c3a60" stroke-width="1.15"/>
<line x1="240.30" y1="152.60" x2="240.30" y2="153.57" stroke="#5c3a60" stroke-width="1.15"/>
<path d="M208.00,158.07 C208.50,157.99 210.00,157.76 211.00,157.61 C212.00,157.46 213.00,157.31 214.00,157.16 C215.00,157.01 216.00,156.86 217.00,156.71 C218.00,156.57 219.00,156.42 220.00,156.28 C221.00,156.13 222.00,155.99 223.00,155.85 C224.00,155.70 225.00,155.56 226.00,155.42 C227.00,155.28 228.00,155.15 229.00,155.01 C230.00,154.87 231.00,154.74 232.00,154.61 C233.00,154.48 234.00,154.35 235.00,154.22 C236.00,154.09 237.00,153.97 238.00,153.84 C239.00,153.72 240.00,153.60 241.00,153.49 C242.00,153.38 241.50,153.27 244.00,153.17 C246.50,153.07 254.00,152.95 256.00,152.90" fill="none" stroke="#6a3c70" stroke-width="1.25"/>
<path d="M207.80,153.30 C210.67,153.27 217.97,153.17 225.00,153.10 C232.03,153.03 245.83,152.93 250.00,152.90" fill="none" stroke="#7a2838" stroke-width="0.7"/>
<path d="M207.80,163.00 C209.58,162.52 214.93,161.03 218.50,160.10 C222.07,159.17 225.62,158.18 229.20,157.40 C232.78,156.62 236.40,155.98 240.00,155.40 C243.60,154.82 247.67,154.27 250.80,153.90 C253.93,153.53 255.60,153.37 258.80,153.20 C262.00,153.03 268.13,152.95 270.00,152.90" fill="none" stroke="#2cb4c4" stroke-width="1.1"/>
<path d="M214.40,167.50 C215.75,166.85 219.57,164.82 222.50,163.60 C225.43,162.38 228.87,161.22 232.00,160.20 C235.13,159.18 238.17,158.28 241.30,157.50 C244.43,156.72 247.68,156.05 250.80,155.50 C253.92,154.95 256.80,154.55 260.00,154.20 C263.20,153.85 266.33,153.60 270.00,153.40 C273.67,153.20 280.00,153.07 282.00,153.00" fill="none" stroke="#58bcd0" stroke-width="0.9" stroke-dasharray="1.2 1.8"/>
<path d="M215.60,167.00 C216.92,166.37 220.60,164.40 223.50,163.20 C226.40,162.00 231.42,160.37 233.00,159.80" fill="none" stroke="#d080a0" stroke-width="0.7" stroke-dasharray="1.0 2.0"/>
<line x1="256.00" y1="152.75" x2="348.50" y2="152.75" stroke="#2a6c9c" stroke-width="1.4"/>
<path d="M239.84,248.18 C240.17,247.59 241.15,245.82 241.82,244.63 C242.48,243.44 243.15,242.24 243.82,241.04 C244.49,239.84 245.17,238.63 245.85,237.42 C246.54,236.21 247.23,235.00 247.93,233.78 C248.62,232.56 249.33,231.34 250.04,230.12 C250.75,228.90 251.47,227.68 252.19,226.46 C252.92,225.24 253.65,224.01 254.39,222.79 C255.13,221.57 255.88,220.35 256.63,219.13 C257.39,217.92 258.15,216.70 258.93,215.49 C259.70,214.28 260.48,213.07 261.27,211.87 C262.06,210.67 262.86,209.47 263.67,208.28 C264.49,207.09 265.30,205.91 266.13,204.73 C266.97,203.56 267.81,202.39 268.66,201.23 C269.51,200.07 270.37,198.92 271.24,197.78 C272.11,196.64 273.00,195.50 273.89,194.38 C274.79,193.27 275.69,192.16 276.61,191.06 C277.53,189.97 278.46,188.88 279.40,187.82 C280.35,186.75 281.30,185.69 282.27,184.65 C283.24,183.62 284.22,182.59 285.21,181.58 C286.21,180.58 287.22,179.58 288.24,178.61 C289.26,177.64 290.29,176.68 291.34,175.75 C292.39,174.81 293.46,173.89 294.54,173.00 C295.61,172.10 296.71,171.22 297.82,170.37 C298.92,169.51 300.05,168.68 301.19,167.87 C302.33,167.06 303.48,166.27 304.65,165.51 C305.82,164.74 307.01,164.00 308.21,163.29 C309.42,162.57 310.64,161.89 311.87,161.22 C313.11,160.56 314.36,159.93 315.64,159.32 C316.91,158.71 318.20,158.13 319.50,157.58 C320.81,157.03 322.13,156.51 323.48,156.02 C324.82,155.53 326.18,155.07 327.56,154.64 C328.94,154.21 330.34,153.76 331.76,153.45 C333.18,153.15 334.70,152.91 336.07,152.80 C337.44,152.69 337.93,152.80 340.00,152.80 C342.07,152.80 347.08,152.80 348.50,152.80" fill="none" stroke="#222" stroke-width="1.0"/>
</g>
<rect x="207.80" y="152.40" width="140.70" height="104.70" fill="none" stroke="#4a4a4a" stroke-width="0.9"/>
<line x1="207.80" y1="257.10" x2="348.50" y2="257.10" stroke="#333" stroke-width="1.3"/>
<line x1="206.30" y1="152.40" x2="207.80" y2="152.40" stroke="#4a4a4a" stroke-width="0.7"/>
<text class="sa" x="204.8" y="154.4" font-size="5.7" text-anchor="end">0</text>
<line x1="348.50" y1="152.40" x2="347.00" y2="152.40" stroke="#4a4a4a" stroke-width="0.6"/>
<line x1="206.30" y1="173.34" x2="207.80" y2="173.34" stroke="#4a4a4a" stroke-width="0.7"/>
<text class="sa" x="204.8" y="175.34" font-size="5.7" text-anchor="end">-20</text>
<line x1="348.50" y1="173.34" x2="347.00" y2="173.34" stroke="#4a4a4a" stroke-width="0.6"/>
<line x1="206.30" y1="194.28" x2="207.80" y2="194.28" stroke="#4a4a4a" stroke-width="0.7"/>
<text class="sa" x="204.8" y="196.28" font-size="5.7" text-anchor="end">-40</text>
<line x1="348.50" y1="194.28" x2="347.00" y2="194.28" stroke="#4a4a4a" stroke-width="0.6"/>
<line x1="206.30" y1="215.22" x2="207.80" y2="215.22" stroke="#4a4a4a" stroke-width="0.7"/>
<text class="sa" x="204.8" y="217.22" font-size="5.7" text-anchor="end">-60</text>
<line x1="348.50" y1="215.22" x2="347.00" y2="215.22" stroke="#4a4a4a" stroke-width="0.6"/>
<line x1="206.30" y1="236.16" x2="207.80" y2="236.16" stroke="#4a4a4a" stroke-width="0.7"/>
<text class="sa" x="204.8" y="238.16" font-size="5.7" text-anchor="end">-80</text>
<line x1="348.50" y1="236.16" x2="347.00" y2="236.16" stroke="#4a4a4a" stroke-width="0.6"/>
<line x1="206.30" y1="257.10" x2="207.80" y2="257.10" stroke="#4a4a4a" stroke-width="0.7"/>
<text class="sa" x="204.8" y="259.1" font-size="5.7" text-anchor="end">-100</text>
<line x1="348.50" y1="257.10" x2="347.00" y2="257.10" stroke="#4a4a4a" stroke-width="0.6"/>
<line x1="206.90" y1="162.87" x2="207.80" y2="162.87" stroke="#4a4a4a" stroke-width="0.6"/>
<line x1="348.50" y1="162.87" x2="347.60" y2="162.87" stroke="#4a4a4a" stroke-width="0.5"/>
<line x1="206.90" y1="183.81" x2="207.80" y2="183.81" stroke="#4a4a4a" stroke-width="0.6"/>
<line x1="348.50" y1="183.81" x2="347.60" y2="183.81" stroke="#4a4a4a" stroke-width="0.5"/>
<line x1="206.90" y1="204.75" x2="207.80" y2="204.75" stroke="#4a4a4a" stroke-width="0.6"/>
<line x1="348.50" y1="204.75" x2="347.60" y2="204.75" stroke="#4a4a4a" stroke-width="0.5"/>
<line x1="206.90" y1="225.69" x2="207.80" y2="225.69" stroke="#4a4a4a" stroke-width="0.6"/>
<line x1="348.50" y1="225.69" x2="347.60" y2="225.69" stroke="#4a4a4a" stroke-width="0.5"/>
<line x1="206.90" y1="246.63" x2="207.80" y2="246.63" stroke="#4a4a4a" stroke-width="0.6"/>
<line x1="348.50" y1="246.63" x2="347.60" y2="246.63" stroke="#4a4a4a" stroke-width="0.5"/>
<g clip-path="url(#cE0)">
<line x1="208.22" y1="257.10" x2="208.22" y2="255.30" stroke="#4a4a4a" stroke-width="0.7"/>
<text class="sa" x="208.22" y="265.8" font-size="5.7" text-anchor="middle">-0.6</text>
<line x1="254.98" y1="257.10" x2="254.98" y2="255.30" stroke="#4a4a4a" stroke-width="0.7"/>
<text class="sa" x="254.98" y="265.8" font-size="5.7" text-anchor="middle">-0.4</text>
<line x1="301.74" y1="257.10" x2="301.74" y2="255.30" stroke="#4a4a4a" stroke-width="0.7"/>
<text class="sa" x="301.74" y="265.8" font-size="5.7" text-anchor="middle">-0.2</text>
<line x1="348.50" y1="257.10" x2="348.50" y2="255.30" stroke="#4a4a4a" stroke-width="0.7"/>
<text class="sa" x="348.5" y="265.8" font-size="5.7" text-anchor="middle">0.0</text>
</g>
<line x1="231.60" y1="257.10" x2="231.60" y2="256.00" stroke="#4a4a4a" stroke-width="0.6"/>
<line x1="278.36" y1="257.10" x2="278.36" y2="256.00" stroke="#4a4a4a" stroke-width="0.6"/>
<line x1="325.12" y1="257.10" x2="325.12" y2="256.00" stroke="#4a4a4a" stroke-width="0.6"/>
<text class="sa" x="278.4" y="278.1" font-size="9.1" text-anchor="middle">E<tspan font-size="5.6" dy="1.7">IR</tspan><tspan dy="-1.7"> / V</tspan><tspan font-size="5.6" dy="1.7">RHE</tspan></text>
<text class="sa" x="189.2" y="206.3" font-size="8.8" text-anchor="middle" transform="rotate(-90 189.2 206.3)">j<tspan font-size="5.2" dy="1.4">BET</tspan><tspan dy="-1.4"> / mA cm</tspan><tspan font-size="5.2" dy="-3.2">-2</tspan></text>
<line x1="304.20" y1="187.90" x2="313.60" y2="187.90" stroke="#111" stroke-width="1.3" stroke-dasharray="2 3.3 2 20"/>
<text class="sa" x="316.2" y="190.20000000000002" font-size="6.3">CuO</text>
<line x1="304.00" y1="196.90" x2="313.60" y2="196.90" stroke="#111" stroke-width="1.3"/>
<text class="sa" x="316.2" y="199.20000000000002" font-size="6.3">CuO<tspan font-size="3.4" dx="1.8" dy="1.0"> HMF</tspan></text>
<line x1="304.20" y1="205.90" x2="313.60" y2="205.90" stroke="#e0406a" stroke-width="1.3" stroke-dasharray="2 3.3 2 20"/>
<text class="sa" x="316.2" y="208.20000000000002" font-size="6.3">NiO</text>
<line x1="304.00" y1="214.90" x2="313.60" y2="214.90" stroke="#e0406a" stroke-width="1.3"/>
<text class="sa" x="316.2" y="217.20000000000002" font-size="6.3">NiO<tspan font-size="3.4" dx="1.8" dy="1.0"> HMF</tspan></text>
<line x1="304.20" y1="223.90" x2="313.60" y2="223.90" stroke="#8a4a9a" stroke-width="1.3" stroke-dasharray="2 3.3 2 20"/>
<text class="sa" x="316.2" y="226.20000000000002" font-size="6.3">Fe<tspan font-size="4.2" dy="1.3">2</tspan><tspan dy="-1.3">O</tspan><tspan font-size="4.2" dy="1.3">3</tspan></text>
<line x1="304.00" y1="232.90" x2="313.60" y2="232.90" stroke="#4a4a90" stroke-width="1.3"/>
<text class="sa" x="316.2" y="235.20000000000002" font-size="6.3">Fe<tspan font-size="4.2" dy="1.3">2</tspan><tspan dy="-1.3">O</tspan><tspan font-size="4.2" dy="1.3">3</tspan><tspan font-size="3.4" dx="1.8" dy="-0.3"> HMF</tspan></text>
<line x1="304.20" y1="241.90" x2="313.60" y2="241.90" stroke="#2cb4c4" stroke-width="1.3" stroke-dasharray="2 3.3 2 20"/>
<text class="sa" x="316.2" y="244.20000000000002" font-size="6.3">Co<tspan font-size="4.2" dy="1.3">3</tspan><tspan dy="-1.3">O</tspan><tspan font-size="4.2" dy="1.3">4</tspan></text>
<line x1="304.00" y1="250.90" x2="313.60" y2="250.90" stroke="#2cb4c4" stroke-width="1.3"/>
<text class="sa" x="316.2" y="253.20000000000002" font-size="6.3">Co<tspan font-size="4.2" dy="1.3">3</tspan><tspan dy="-1.3">O</tspan><tspan font-size="4.2" dy="1.3">4</tspan><tspan font-size="3.4" dx="1.8" dy="-0.3"> HMF</tspan></text>
<rect x="350.00" y="136.00" width="170.00" height="147.00" fill="#fff"/>
<text class="sen" x="351.8" y="151.4" font-size="14">(f)</text>
<g clip-path="url(#cF)">
<path d="M374.99,202.01 C375.41,201.31 376.64,199.19 377.51,197.84 C378.37,196.50 379.27,195.19 380.19,193.93 C381.12,192.66 382.07,191.44 383.05,190.25 C384.03,189.06 385.03,187.92 386.06,186.81 C387.09,185.70 388.14,184.63 389.22,183.59 C390.30,182.56 391.40,181.56 392.53,180.60 C393.65,179.64 394.80,178.71 395.96,177.82 C397.13,176.94 398.32,176.08 399.53,175.26 C400.74,174.44 401.97,173.65 403.22,172.90 C404.46,172.15 405.73,171.43 407.01,170.74 C408.29,170.05 409.60,169.40 410.91,168.78 C412.23,168.15 413.56,167.56 414.91,167.00 C416.26,166.43 417.62,165.90 418.99,165.40 C420.37,164.90 421.76,164.42 423.16,163.98 C424.56,163.53 425.97,163.12 427.40,162.73 C428.82,162.34 430.26,161.98 431.70,161.64 C433.15,161.30 434.60,161.00 436.06,160.71 C437.53,160.43 439.00,160.17 440.48,159.94 C441.95,159.70 443.44,159.45 444.93,159.31 C446.42,159.17 447.92,159.13 449.42,159.10 C450.92,159.07 452.42,159.10 453.93,159.10 C455.44,159.10 456.95,159.10 458.46,159.10 C459.98,159.10 461.49,159.10 463.01,159.10 C464.52,159.10 466.04,159.10 467.56,159.10 C469.07,159.10 470.59,159.10 472.10,159.10 C473.61,159.10 475.12,159.10 476.63,159.10 C478.14,159.10 479.64,159.10 481.14,159.10 C482.64,159.10 484.14,159.10 485.63,159.10 C487.12,159.10 486.68,159.10 490.08,159.10 C493.47,159.10 501.76,159.10 506.00,159.10 C510.24,159.10 513.92,159.10 515.50,159.10" fill="none" stroke="#333" stroke-width="1.1" stroke-dasharray="1.3 2.3"/>
<path d="M387.05,245.29 C387.28,244.50 388.01,242.13 388.45,240.52 C388.90,238.90 389.32,237.26 389.73,235.61 C390.14,233.96 390.53,232.29 390.92,230.61 C391.31,228.94 391.69,227.24 392.06,225.55 C392.44,223.86 392.81,222.16 393.20,220.46 C393.58,218.77 393.96,217.07 394.36,215.38 C394.76,213.69 395.16,212.00 395.58,210.33 C396.01,208.66 396.45,206.99 396.92,205.35 C397.38,203.70 397.87,202.07 398.39,200.47 C398.91,198.87 399.46,197.28 400.04,195.73 C400.63,194.17 401.25,192.64 401.92,191.15 C402.58,189.66 403.29,188.19 404.05,186.77 C404.81,185.35 405.61,183.97 406.47,182.63 C407.34,181.29 408.25,179.99 409.23,178.75 C410.20,177.50 411.24,176.30 412.32,175.16 C413.41,174.02 414.56,172.92 415.76,171.89 C416.97,170.86 418.23,169.88 419.55,168.96 C420.86,168.05 422.25,167.19 423.67,166.40 C425.10,165.60 426.59,164.87 428.11,164.20 C429.64,163.52 431.21,162.91 432.82,162.35 C434.43,161.79 436.08,161.29 437.76,160.84 C439.44,160.39 441.15,159.96 442.88,159.66 C444.62,159.37 446.38,159.19 448.15,159.10 C449.92,159.01 451.72,159.10 453.52,159.10 C455.32,159.10 457.13,159.10 458.95,159.10 C460.76,159.10 462.58,159.10 464.39,159.10 C466.20,159.10 468.01,159.10 469.81,159.10 C471.60,159.10 473.39,159.10 475.16,159.10 C476.92,159.10 475.26,159.10 480.40,159.10 C485.54,159.10 500.15,159.10 506.00,159.10 C511.85,159.10 513.92,159.10 515.50,159.10" fill="none" stroke="#70cadf" stroke-width="1.0" stroke-dasharray="1.3 2.3"/>
<path d="M399.30,251.74 C399.47,251.00 399.99,248.80 400.31,247.27 C400.63,245.73 400.93,244.16 401.23,242.55 C401.53,240.95 401.81,239.31 402.09,237.65 C402.37,235.99 402.65,234.30 402.93,232.60 C403.21,230.89 403.49,229.17 403.78,227.44 C404.07,225.70 404.36,223.95 404.67,222.21 C404.98,220.46 405.30,218.70 405.64,216.95 C405.99,215.21 406.34,213.45 406.73,211.72 C407.11,209.98 407.52,208.25 407.96,206.54 C408.40,204.83 408.86,203.13 409.37,201.46 C409.88,199.80 410.41,198.14 411.00,196.53 C411.58,194.92 412.20,193.33 412.87,191.78 C413.54,190.24 414.26,188.72 415.03,187.26 C415.80,185.79 416.62,184.37 417.50,183.00 C418.39,181.64 419.33,180.32 420.32,179.05 C421.32,177.79 422.37,176.58 423.47,175.42 C424.58,174.27 425.74,173.16 426.94,172.12 C428.14,171.07 429.40,170.08 430.70,169.14 C432.00,168.21 433.35,167.33 434.73,166.51 C436.12,165.69 437.55,164.92 439.02,164.22 C440.49,163.51 442.00,162.87 443.54,162.28 C445.08,161.69 446.66,161.17 448.27,160.70 C449.88,160.24 451.53,159.76 453.20,159.49 C454.87,159.22 456.58,159.16 458.30,159.10 C460.03,159.04 461.78,159.10 463.56,159.10 C465.33,159.10 467.13,159.10 468.94,159.10 C470.76,159.10 472.59,159.10 474.44,159.10 C476.29,159.10 478.16,159.10 480.04,159.10 C481.91,159.10 481.38,159.10 485.70,159.10 C490.03,159.10 501.03,159.10 506.00,159.10 C510.97,159.10 513.92,159.10 515.50,159.10" fill="none" stroke="#e4708a" stroke-width="1.0" stroke-dasharray="1.3 2.3"/>
<path d="M412.77,251.59 C413.00,250.94 413.69,249.03 414.14,247.70 C414.58,246.38 415.01,245.02 415.44,243.65 C415.86,242.28 416.28,240.87 416.69,239.46 C417.10,238.04 417.51,236.60 417.91,235.15 C418.32,233.70 418.72,232.23 419.12,230.76 C419.53,229.28 419.93,227.79 420.33,226.29 C420.74,224.80 421.15,223.29 421.56,221.78 C421.98,220.28 422.39,218.77 422.82,217.26 C423.25,215.75 423.69,214.24 424.14,212.73 C424.59,211.23 425.04,209.73 425.52,208.24 C425.99,206.75 426.47,205.26 426.98,203.79 C427.48,202.32 428.00,200.86 428.54,199.42 C429.08,197.98 429.64,196.56 430.22,195.15 C430.80,193.75 431.40,192.36 432.03,191.00 C432.65,189.64 433.30,188.31 433.98,187.00 C434.66,185.70 435.36,184.41 436.10,183.17 C436.84,181.92 437.60,180.71 438.40,179.53 C439.20,178.35 440.03,177.21 440.90,176.11 C441.77,175.01 442.67,173.94 443.61,172.93 C444.55,171.91 445.52,170.93 446.54,170.01 C447.56,169.09 448.62,168.21 449.73,167.38 C450.83,166.56 451.98,165.78 453.17,165.07 C454.36,164.35 455.60,163.69 456.89,163.09 C458.18,162.49 459.52,161.94 460.91,161.47 C462.30,160.99 463.73,160.57 465.23,160.23 C466.73,159.88 468.27,159.59 469.88,159.40 C471.49,159.21 473.15,159.15 474.87,159.10 C476.60,159.05 478.38,159.10 480.22,159.10 C482.07,159.10 481.65,159.10 485.95,159.10 C490.25,159.10 501.07,159.10 506.00,159.10 C510.93,159.10 513.92,159.10 515.50,159.10" fill="none" stroke="#b05884" stroke-width="1.0" stroke-dasharray="1.3 2.3"/>
<path d="M393.31,240.60 C393.55,239.81 394.22,237.36 394.72,235.81 C395.21,234.26 395.74,232.76 396.30,231.30 C396.86,229.84 397.45,228.43 398.06,227.06 C398.67,225.69 399.31,224.36 399.98,223.06 C400.64,221.77 401.34,220.52 402.05,219.30 C402.77,218.08 403.51,216.90 404.27,215.74 C405.03,214.59 405.82,213.47 406.62,212.38 C407.43,211.29 408.26,210.23 409.10,209.19 C409.95,208.15 410.82,207.14 411.70,206.15 C412.59,205.16 413.49,204.20 414.41,203.25 C415.32,202.31 416.26,201.38 417.21,200.47 C418.16,199.56 419.12,198.66 420.10,197.78 C421.08,196.90 422.07,196.03 423.08,195.17 C424.08,194.32 425.09,193.47 426.12,192.63 C427.14,191.78 428.18,190.95 429.22,190.12 C430.27,189.29 431.32,188.46 432.38,187.64 C433.44,186.82 434.51,186.00 435.59,185.18 C436.67,184.37 437.76,183.56 438.86,182.76 C439.96,181.96 441.07,181.17 442.20,180.38 C443.32,179.60 444.45,178.83 445.59,178.07 C446.74,177.30 447.90,176.55 449.07,175.82 C450.24,175.08 451.42,174.36 452.61,173.65 C453.81,172.94 455.02,172.25 456.25,171.57 C457.47,170.90 458.71,170.24 459.96,169.60 C461.22,168.97 462.49,168.35 463.77,167.75 C465.06,167.15 466.36,166.57 467.68,166.02 C469.00,165.47 470.33,164.93 471.69,164.43 C473.04,163.92 474.41,163.44 475.80,162.99 C477.20,162.53 478.60,162.11 480.03,161.71 C481.46,161.31 482.91,160.94 484.38,160.60 C485.84,160.26 487.33,159.93 488.84,159.68 C490.35,159.43 491.88,159.20 493.43,159.10 C494.99,159.00 496.06,159.10 498.16,159.10 C500.25,159.10 503.11,159.10 506.00,159.10 C508.89,159.10 513.92,159.10 515.50,159.10" fill="none" stroke="#38b4c8" stroke-width="1.4"/>
<path d="M406.12,211.58 C406.54,211.05 407.76,209.43 408.60,208.39 C409.45,207.35 410.32,206.34 411.20,205.35 C412.09,204.36 412.99,203.40 413.91,202.45 C414.82,201.51 415.76,200.58 416.71,199.67 C417.66,198.76 418.62,197.86 419.60,196.98 C420.58,196.10 421.57,195.23 422.58,194.37 C423.58,193.52 424.59,192.67 425.62,191.83 C426.64,190.98 427.68,190.15 428.72,189.32 C429.77,188.49 430.82,187.66 431.88,186.84 C432.94,186.02 434.01,185.20 435.09,184.38 C436.17,183.57 437.26,182.76 438.36,181.96 C439.46,181.16 440.57,180.37 441.70,179.58 C442.82,178.80 443.95,178.03 445.09,177.27 C446.24,176.50 447.40,175.75 448.57,175.02 C449.74,174.28 450.92,173.56 452.11,172.85 C453.31,172.14 454.52,171.45 455.75,170.77 C456.97,170.10 458.21,169.44 459.46,168.80 C460.72,168.17 461.99,167.55 463.27,166.95 C464.56,166.35 465.86,165.77 467.18,165.22 C468.50,164.67 469.83,164.13 471.19,163.63 C472.54,163.12 473.91,162.64 475.30,162.19 C476.70,161.73 478.10,161.31 479.53,160.91 C480.96,160.51 482.41,160.14 483.88,159.80 C485.34,159.46 486.83,159.13 488.34,158.88 C489.85,158.63 491.38,158.40 492.93,158.30 C494.49,158.20 495.56,158.30 497.66,158.30 C499.75,158.30 502.61,158.30 505.50,158.30 C508.39,158.30 513.42,158.30 515.00,158.30" fill="none" stroke="#8a8a96" stroke-width="0.7"/>
<path d="M395.79,254.85 C395.78,253.96 395.71,251.24 395.76,249.47 C395.81,247.71 395.93,245.98 396.10,244.27 C396.27,242.57 396.51,240.89 396.80,239.25 C397.09,237.60 397.43,235.99 397.83,234.41 C398.22,232.83 398.67,231.27 399.16,229.75 C399.66,228.23 400.20,226.75 400.79,225.29 C401.37,223.84 402.01,222.41 402.68,221.02 C403.35,219.63 404.07,218.27 404.82,216.95 C405.57,215.63 406.36,214.34 407.18,213.08 C408.00,211.82 408.85,210.60 409.74,209.41 C410.62,208.23 411.54,207.07 412.48,205.95 C413.42,204.84 414.39,203.75 415.38,202.71 C416.37,201.66 417.39,200.65 418.42,199.67 C419.46,198.70 420.51,197.76 421.58,196.85 C422.65,195.93 423.74,195.05 424.84,194.18 C425.94,193.31 427.06,192.47 428.19,191.62 C429.32,190.78 430.47,189.95 431.62,189.11 C432.77,188.27 433.94,187.44 435.11,186.60 C436.28,185.75 437.46,184.90 438.65,184.04 C439.84,183.19 441.04,182.32 442.26,181.46 C443.47,180.60 444.69,179.74 445.93,178.89 C447.17,178.04 448.41,177.18 449.68,176.35 C450.94,175.51 452.22,174.68 453.51,173.87 C454.81,173.07 456.11,172.27 457.44,171.50 C458.77,170.73 460.11,169.97 461.48,169.25 C462.84,168.52 464.22,167.82 465.62,167.16 C467.03,166.49 468.45,165.85 469.89,165.26 C471.34,164.66 472.80,164.09 474.29,163.58 C475.78,163.06 477.30,162.58 478.83,162.15 C480.37,161.72 481.93,161.33 483.52,161.00 C485.11,160.67 486.73,160.38 488.37,160.16 C490.02,159.94 491.69,159.77 493.39,159.67 C495.09,159.57 496.43,159.57 498.58,159.55 C500.73,159.53 503.43,159.55 506.30,159.55 C509.17,159.55 514.22,159.55 515.80,159.55" fill="none" stroke="#d84a60" stroke-width="0.7"/>
<path d="M406.34,248.11 C406.71,247.48 407.81,245.56 408.56,244.28 C409.30,242.99 410.05,241.70 410.81,240.41 C411.56,239.11 412.33,237.81 413.10,236.51 C413.87,235.21 414.64,233.91 415.43,232.60 C416.21,231.30 417.00,229.99 417.80,228.69 C418.61,227.38 419.41,226.08 420.23,224.77 C421.05,223.47 421.88,222.17 422.71,220.88 C423.55,219.58 424.39,218.29 425.25,217.01 C426.11,215.72 426.97,214.44 427.85,213.17 C428.73,211.90 429.62,210.63 430.52,209.37 C431.42,208.12 432.33,206.87 433.26,205.64 C434.18,204.40 435.12,203.17 436.07,201.96 C437.02,200.75 437.98,199.55 438.96,198.36 C439.94,197.18 440.93,196.00 441.93,194.85 C442.94,193.69 443.96,192.55 444.99,191.42 C446.03,190.30 447.08,189.19 448.14,188.11 C449.21,187.02 450.29,185.95 451.39,184.90 C452.48,183.86 453.60,182.83 454.73,181.82 C455.86,180.82 457.01,179.84 458.18,178.88 C459.34,177.92 460.53,176.99 461.73,176.08 C462.94,175.17 464.16,174.28 465.40,173.43 C466.64,172.57 467.90,171.74 469.18,170.95 C470.46,170.15 471.76,169.38 473.08,168.64 C474.40,167.90 475.74,167.19 477.10,166.51 C478.46,165.83 479.85,165.19 481.25,164.58 C482.66,163.97 484.09,163.39 485.54,162.85 C486.99,162.31 488.46,161.80 489.95,161.33 C491.45,160.86 492.97,160.41 494.51,160.04 C496.06,159.67 497.30,159.26 499.22,159.10 C501.13,158.94 503.29,159.10 506.00,159.10 C508.71,159.10 513.92,159.10 515.50,159.10" fill="none" stroke="#1c1c1c" stroke-width="1.15"/>
<path d="M429.39,246.06 C429.50,245.40 429.81,243.41 430.06,242.10 C430.31,240.79 430.58,239.48 430.87,238.19 C431.16,236.89 431.48,235.60 431.81,234.32 C432.15,233.04 432.51,231.77 432.89,230.51 C433.27,229.25 433.68,227.99 434.10,226.75 C434.53,225.51 434.97,224.27 435.44,223.05 C435.91,221.82 436.40,220.61 436.91,219.41 C437.42,218.20 437.95,217.01 438.50,215.83 C439.05,214.64 439.62,213.47 440.21,212.31 C440.80,211.15 441.41,210.00 442.04,208.86 C442.67,207.72 443.31,206.59 443.98,205.47 C444.65,204.36 445.34,203.25 446.04,202.16 C446.75,201.07 447.47,199.99 448.22,198.92 C448.96,197.86 449.72,196.80 450.50,195.76 C451.28,194.72 452.07,193.69 452.89,192.68 C453.70,191.66 454.53,190.66 455.38,189.67 C456.23,188.69 457.10,187.71 457.98,186.75 C458.86,185.79 459.76,184.85 460.67,183.92 C461.59,182.98 462.52,182.07 463.47,181.17 C464.41,180.27 465.38,179.38 466.36,178.51 C467.33,177.64 468.33,176.78 469.34,175.94 C470.34,175.10 471.37,174.28 472.41,173.47 C473.45,172.66 474.50,171.87 475.57,171.09 C476.63,170.32 477.72,169.56 478.81,168.82 C479.91,168.08 481.02,167.35 482.14,166.64 C483.26,165.94 484.40,165.25 485.55,164.57 C486.70,163.90 487.86,163.25 489.03,162.61 C490.21,161.98 491.40,161.34 492.60,160.76 C493.80,160.17 494.00,159.38 496.23,159.10 C498.47,158.82 502.79,159.10 506.00,159.10 C509.21,159.10 513.92,159.10 515.50,159.10" fill="none" stroke="#8c8c8c" stroke-width="0.8"/>
</g>
<rect x="374.50" y="153.00" width="141.00" height="102.20" fill="none" stroke="#4a4a4a" stroke-width="0.9"/>
<line x1="373.00" y1="155.10" x2="374.50" y2="155.10" stroke="#4a4a4a" stroke-width="0.7"/>
<text class="sa" x="371.9" y="157.1" font-size="5.7" text-anchor="end">0</text>
<line x1="515.50" y1="155.10" x2="514.00" y2="155.10" stroke="#4a4a4a" stroke-width="0.6"/>
<line x1="373.00" y1="177.36" x2="374.50" y2="177.36" stroke="#4a4a4a" stroke-width="0.7"/>
<text class="sa" x="371.9" y="179.35999999999999" font-size="5.7" text-anchor="end">-10</text>
<line x1="515.50" y1="177.36" x2="514.00" y2="177.36" stroke="#4a4a4a" stroke-width="0.6"/>
<line x1="373.00" y1="199.62" x2="374.50" y2="199.62" stroke="#4a4a4a" stroke-width="0.7"/>
<text class="sa" x="371.9" y="201.62" font-size="5.7" text-anchor="end">-20</text>
<line x1="515.50" y1="199.62" x2="514.00" y2="199.62" stroke="#4a4a4a" stroke-width="0.6"/>
<line x1="373.00" y1="221.88" x2="374.50" y2="221.88" stroke="#4a4a4a" stroke-width="0.7"/>
<text class="sa" x="371.9" y="223.88" font-size="5.7" text-anchor="end">-30</text>
<line x1="515.50" y1="221.88" x2="514.00" y2="221.88" stroke="#4a4a4a" stroke-width="0.6"/>
<line x1="373.00" y1="244.14" x2="374.50" y2="244.14" stroke="#4a4a4a" stroke-width="0.7"/>
<text class="sa" x="371.9" y="246.14" font-size="5.7" text-anchor="end">-40</text>
<line x1="515.50" y1="244.14" x2="514.00" y2="244.14" stroke="#4a4a4a" stroke-width="0.6"/>
<line x1="373.60" y1="166.23" x2="374.50" y2="166.23" stroke="#4a4a4a" stroke-width="0.6"/>
<line x1="373.60" y1="188.49" x2="374.50" y2="188.49" stroke="#4a4a4a" stroke-width="0.6"/>
<line x1="373.60" y1="210.75" x2="374.50" y2="210.75" stroke="#4a4a4a" stroke-width="0.6"/>
<line x1="373.60" y1="233.01" x2="374.50" y2="233.01" stroke="#4a4a4a" stroke-width="0.6"/>
<line x1="373.60" y1="255.27" x2="374.50" y2="255.27" stroke="#4a4a4a" stroke-width="0.6"/>
<line x1="375.20" y1="255.20" x2="375.20" y2="256.60" stroke="#4a4a4a" stroke-width="0.7"/>
<line x1="375.20" y1="153.00" x2="375.20" y2="154.40" stroke="#4a4a4a" stroke-width="0.6"/>
<text class="sa" x="375.20000000000005" y="263.1" font-size="5.7" text-anchor="middle">-0.6</text>
<line x1="398.20" y1="255.20" x2="398.20" y2="256.60" stroke="#4a4a4a" stroke-width="0.7"/>
<line x1="398.20" y1="153.00" x2="398.20" y2="154.40" stroke="#4a4a4a" stroke-width="0.6"/>
<text class="sa" x="398.20000000000005" y="263.1" font-size="5.7" text-anchor="middle">-0.5</text>
<line x1="421.20" y1="255.20" x2="421.20" y2="256.60" stroke="#4a4a4a" stroke-width="0.7"/>
<line x1="421.20" y1="153.00" x2="421.20" y2="154.40" stroke="#4a4a4a" stroke-width="0.6"/>
<text class="sa" x="421.20000000000005" y="263.1" font-size="5.7" text-anchor="middle">-0.4</text>
<line x1="444.20" y1="255.20" x2="444.20" y2="256.60" stroke="#4a4a4a" stroke-width="0.7"/>
<line x1="444.20" y1="153.00" x2="444.20" y2="154.40" stroke="#4a4a4a" stroke-width="0.6"/>
<text class="sa" x="444.20000000000005" y="263.1" font-size="5.7" text-anchor="middle">-0.3</text>
<line x1="467.20" y1="255.20" x2="467.20" y2="256.60" stroke="#4a4a4a" stroke-width="0.7"/>
<line x1="467.20" y1="153.00" x2="467.20" y2="154.40" stroke="#4a4a4a" stroke-width="0.6"/>
<text class="sa" x="467.20000000000005" y="263.1" font-size="5.7" text-anchor="middle">-0.2</text>
<line x1="490.20" y1="255.20" x2="490.20" y2="256.60" stroke="#4a4a4a" stroke-width="0.7"/>
<line x1="490.20" y1="153.00" x2="490.20" y2="154.40" stroke="#4a4a4a" stroke-width="0.6"/>
<text class="sa" x="490.20000000000005" y="263.1" font-size="5.7" text-anchor="middle">-0.1</text>
<line x1="513.20" y1="255.20" x2="513.20" y2="256.60" stroke="#4a4a4a" stroke-width="0.7"/>
<line x1="513.20" y1="153.00" x2="513.20" y2="154.40" stroke="#4a4a4a" stroke-width="0.6"/>
<text class="sa" x="513.2" y="263.1" font-size="5.7" text-anchor="middle">0.0</text>
<text class="sa" x="445.4" y="275.9" font-size="8.7" text-anchor="middle">E<tspan font-size="5.4" dy="1.6">IR</tspan><tspan dy="-1.6"> / V</tspan><tspan font-size="5.4" dy="1.6">RHE</tspan></text>
<text class="sa" x="358.2" y="203.1" font-size="8.4" text-anchor="middle" transform="rotate(-90 358.2 203.1)">j<tspan font-size="5" dy="1.4">geom</tspan><tspan dy="-1.4"> / mA cm</tspan><tspan font-size="5" dy="-3">-2</tspan></text>
<line x1="459.20" y1="187.70" x2="470.00" y2="187.70" stroke="#111" stroke-width="1.3" stroke-dasharray="2.6 5.4 1.4 20"/>
<text class="sa" x="471.2" y="190.0" font-size="6.2">CuO</text>
<line x1="459.00" y1="196.40" x2="468.60" y2="196.40" stroke="#111" stroke-width="1.3"/>
<text class="sa" x="471.2" y="198.7" font-size="6.2">CuO<tspan font-size="3.4" dx="1.6" dy="1.0"> HMF</tspan></text>
<line x1="459.20" y1="205.10" x2="470.00" y2="205.10" stroke="#e0406a" stroke-width="1.3" stroke-dasharray="2.6 5.4 1.4 20"/>
<text class="sa" x="471.2" y="207.4" font-size="6.2">CuO/NiO</text>
<line x1="459.00" y1="213.80" x2="468.60" y2="213.80" stroke="#e0406a" stroke-width="1.3"/>
<text class="sa" x="471.2" y="216.1" font-size="6.2">CuO/NiO<tspan font-size="3.4" dx="1.6" dy="1.0"> HMF</tspan></text>
<line x1="459.20" y1="222.50" x2="470.00" y2="222.50" stroke="#a04878" stroke-width="1.3" stroke-dasharray="2.6 5.4 1.4 20"/>
<text class="sa" x="471.2" y="224.8" font-size="6.2">CuO/Fe<tspan font-size="4.2" dy="1.3">2</tspan><tspan dy="-1.3">O</tspan><tspan font-size="4.2" dy="1.3">3</tspan></text>
<line x1="459.00" y1="231.20" x2="468.60" y2="231.20" stroke="#7a70a0" stroke-width="1.3"/>
<text class="sa" x="471.2" y="233.5" font-size="6.2">CuO/Fe<tspan font-size="4.2" dy="1.3">2</tspan><tspan dy="-1.3">O</tspan><tspan font-size="4.2" dy="1.3">3</tspan><tspan font-size="3.4" dx="1.6" dy="-0.3"> HMF</tspan></text>
<line x1="459.20" y1="239.90" x2="470.00" y2="239.90" stroke="#38b4c8" stroke-width="1.3" stroke-dasharray="2.6 5.4 1.4 20"/>
<text class="sa" x="471.2" y="242.2" font-size="6.2">CuO/Co<tspan font-size="4.2" dy="1.3">3</tspan><tspan dy="-1.3">O</tspan><tspan font-size="4.2" dy="1.3">4</tspan></text>
<line x1="459.00" y1="248.60" x2="468.60" y2="248.60" stroke="#38b4c8" stroke-width="1.3"/>
<text class="sa" x="471.2" y="250.89999999999998" font-size="6.2">CuO/Co<tspan font-size="4.2" dy="1.3">3</tspan><tspan dy="-1.3">O</tspan><tspan font-size="4.2" dy="1.3">4</tspan><tspan font-size="3.4" dx="1.6" dy="-0.3"> HMF</tspan></text>
</svg></body></html>
